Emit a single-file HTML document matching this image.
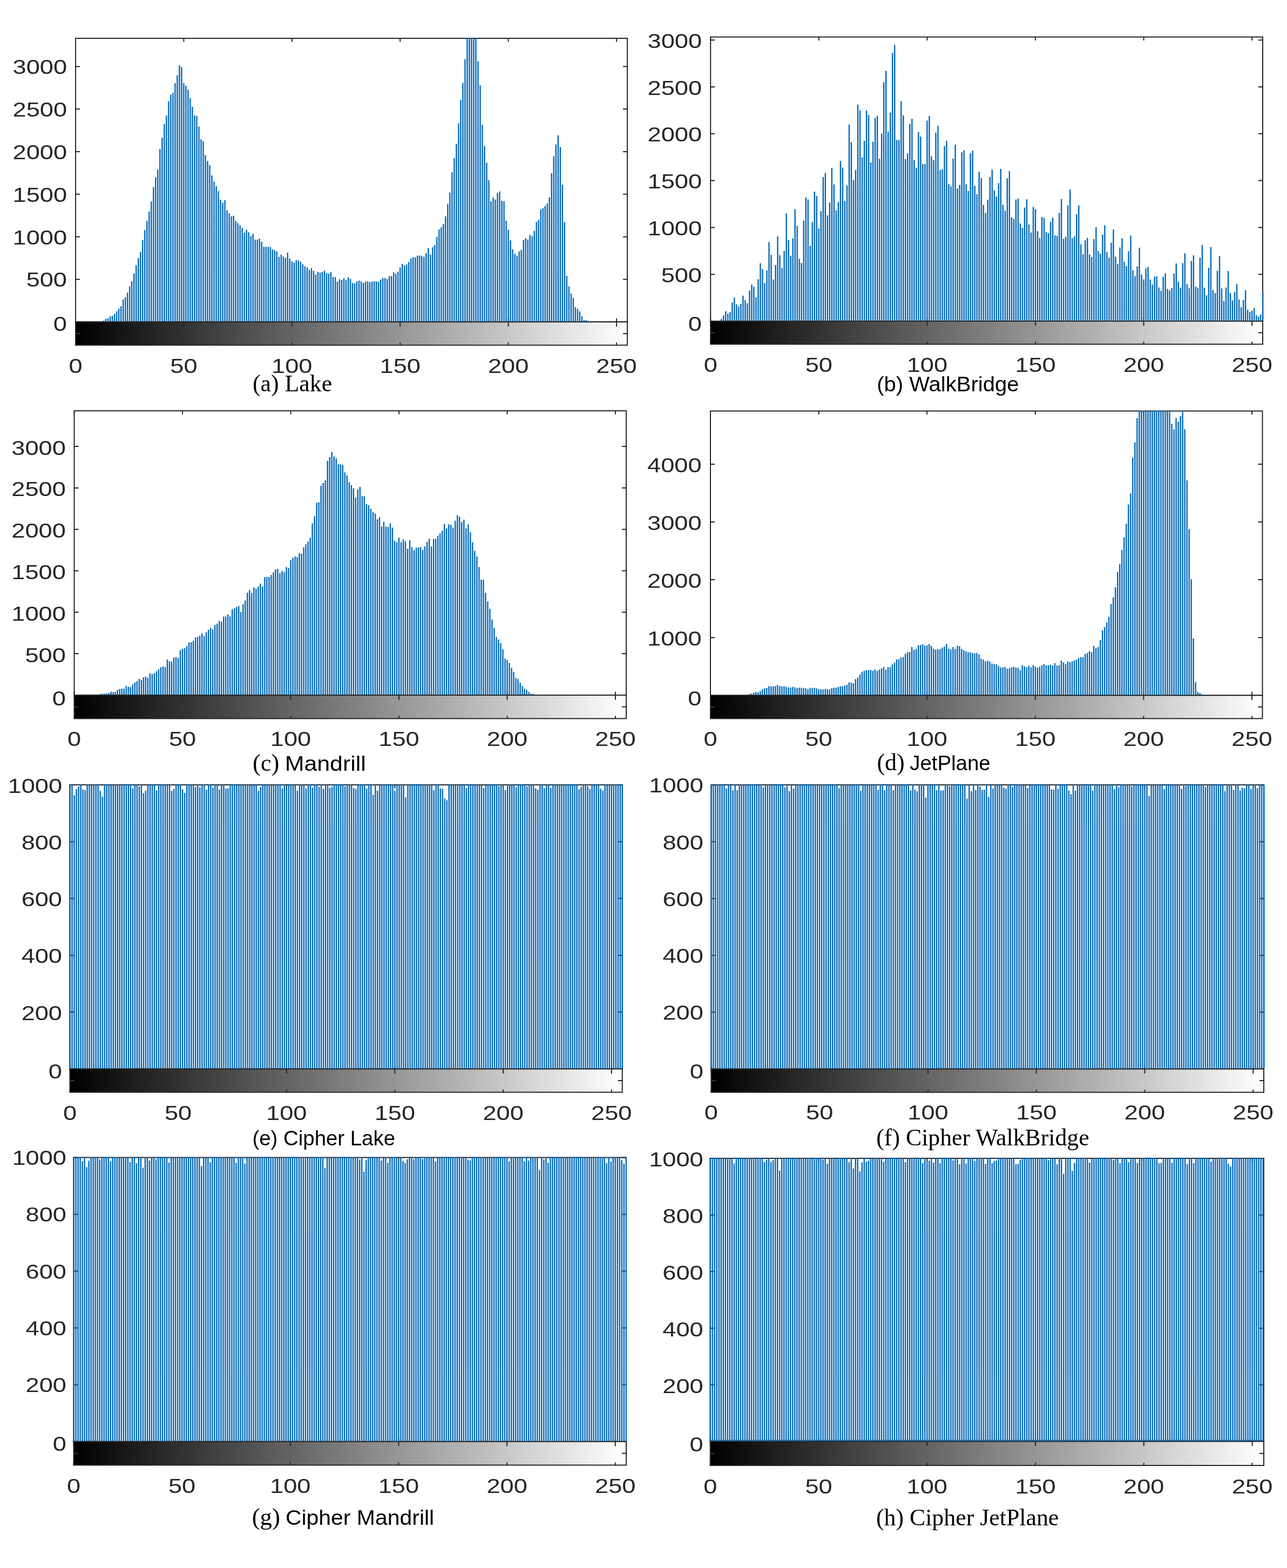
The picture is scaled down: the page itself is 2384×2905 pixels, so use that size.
<!DOCTYPE html>
<html><head><meta charset="utf-8"><title>Histograms</title>
<style>
html,body{margin:0;padding:0;background:#fff;}
svg{display:block;}
.n{font-family:"Liberation Sans",Arial,sans-serif;font-size:36.3px;fill:#262626;}
.s{font-family:"Liberation Serif","Times New Roman",serif;font-size:43.5px;fill:#000;}
.c{font-family:"Liberation Sans",Arial,sans-serif;font-size:39px;fill:#000;}
</style></head><body>
<svg width="2384" height="2905" viewBox="0 0 2384 2905">
<defs><linearGradient id="g" x1="0" x2="1" y1="0" y2="0"><stop offset="0" stop-color="#000"/><stop offset="1" stop-color="#fff"/></linearGradient></defs>
<clipPath id="ca"><rect x="137" y="70.5" width="1028" height="525.9"/></clipPath>
<rect x="140" y="71" width="1022" height="525.4" fill="none" stroke="#262626" stroke-width="2"/>
<path d="M140.0 71v6.5 M140.0 596.4v-6.5 M340.4 71v6.5 M340.4 596.4v-6.5 M540.8 71v6.5 M540.8 596.4v-6.5 M741.2 71v6.5 M741.2 596.4v-6.5 M941.6 71v6.5 M941.6 596.4v-6.5 M1142.0 71v6.5 M1142.0 596.4v-6.5 M140 596.4h8 M1162 596.4h-8 M140 517.5h8 M1162 517.5h-8 M140 438.7h8 M1162 438.7h-8 M140 359.8h8 M1162 359.8h-8 M140 281.0h8 M1162 281.0h-8 M140 202.1h8 M1162 202.1h-8 M140 123.3h8 M1162 123.3h-8" stroke="#262626" stroke-width="2" fill="none"/>
<path clip-path="url(#ca)" fill="#0067B9" d="M190.90 596.40h2.4v-2.48h-2.4zM194.91 596.40h2.4v-5.88h-2.4zM198.92 596.40h2.4v-7.23h-2.4zM202.93 596.40h2.4v-10.17h-2.4zM206.94 596.40h2.4v-11.29h-2.4zM210.94 596.40h2.4v-14.92h-2.4zM214.95 596.40h2.4v-19.59h-2.4zM218.96 596.40h2.4v-24.43h-2.4zM222.97 596.40h2.4v-29.04h-2.4zM226.98 596.40h2.4v-41.31h-2.4zM230.98 596.40h2.4v-45.87h-2.4zM234.99 596.40h2.4v-54.48h-2.4zM239.00 596.40h2.4v-65.99h-2.4zM243.01 596.40h2.4v-75.40h-2.4zM247.02 596.40h2.4v-89.89h-2.4zM251.02 596.40h2.4v-105.19h-2.4zM255.03 596.40h2.4v-118.12h-2.4zM259.04 596.40h2.4v-129.44h-2.4zM263.05 596.40h2.4v-151.70h-2.4zM267.06 596.40h2.4v-170.06h-2.4zM271.06 596.40h2.4v-187.12h-2.4zM275.07 596.40h2.4v-204.36h-2.4zM279.08 596.40h2.4v-223.05h-2.4zM283.09 596.40h2.4v-249.36h-2.4zM287.10 596.40h2.4v-267.75h-2.4zM291.10 596.40h2.4v-282.18h-2.4zM295.11 596.40h2.4v-320.43h-2.4zM299.12 596.40h2.4v-341.25h-2.4zM303.13 596.40h2.4v-366.30h-2.4zM307.14 596.40h2.4v-382.33h-2.4zM311.14 596.40h2.4v-408.96h-2.4zM315.15 596.40h2.4v-420.89h-2.4zM319.16 596.40h2.4v-424.40h-2.4zM323.17 596.40h2.4v-442.43h-2.4zM327.18 596.40h2.4v-456.96h-2.4zM331.18 596.40h2.4v-475.70h-2.4zM335.19 596.40h2.4v-472.11h-2.4zM339.20 596.40h2.4v-442.63h-2.4zM343.21 596.40h2.4v-437.42h-2.4zM347.22 596.40h2.4v-430.20h-2.4zM351.22 596.40h2.4v-414.94h-2.4zM355.23 596.40h2.4v-398.37h-2.4zM359.24 596.40h2.4v-382.58h-2.4zM363.25 596.40h2.4v-381.58h-2.4zM367.26 596.40h2.4v-361.90h-2.4zM371.26 596.40h2.4v-338.19h-2.4zM375.27 596.40h2.4v-334.85h-2.4zM379.28 596.40h2.4v-308.92h-2.4zM383.29 596.40h2.4v-298.11h-2.4zM387.30 596.40h2.4v-290.40h-2.4zM391.30 596.40h2.4v-271.47h-2.4zM395.31 596.40h2.4v-259.94h-2.4zM399.32 596.40h2.4v-251.64h-2.4zM403.33 596.40h2.4v-242.06h-2.4zM407.34 596.40h2.4v-226.38h-2.4zM411.34 596.40h2.4v-220.90h-2.4zM415.35 596.40h2.4v-225.39h-2.4zM419.36 596.40h2.4v-206.91h-2.4zM423.37 596.40h2.4v-201.27h-2.4zM427.38 596.40h2.4v-195.58h-2.4zM431.38 596.40h2.4v-196.69h-2.4zM435.39 596.40h2.4v-187.08h-2.4zM439.40 596.40h2.4v-183.14h-2.4zM443.41 596.40h2.4v-179.05h-2.4zM447.42 596.40h2.4v-174.15h-2.4zM451.42 596.40h2.4v-165.38h-2.4zM455.43 596.40h2.4v-170.74h-2.4zM459.44 596.40h2.4v-166.13h-2.4zM463.45 596.40h2.4v-159.03h-2.4zM467.46 596.40h2.4v-163.35h-2.4zM471.46 596.40h2.4v-152.47h-2.4zM475.47 596.40h2.4v-152.51h-2.4zM479.48 596.40h2.4v-154.31h-2.4zM483.49 596.40h2.4v-148.36h-2.4zM487.50 596.40h2.4v-139.08h-2.4zM491.50 596.40h2.4v-139.08h-2.4zM495.51 596.40h2.4v-139.08h-2.4zM499.52 596.40h2.4v-138.90h-2.4zM503.53 596.40h2.4v-134.29h-2.4zM507.54 596.40h2.4v-132.97h-2.4zM511.54 596.40h2.4v-130.59h-2.4zM515.55 596.40h2.4v-120.68h-2.4zM519.56 596.40h2.4v-124.61h-2.4zM523.57 596.40h2.4v-121.19h-2.4zM527.58 596.40h2.4v-118.70h-2.4zM531.58 596.40h2.4v-128.32h-2.4zM535.59 596.40h2.4v-117.09h-2.4zM539.60 596.40h2.4v-111.91h-2.4zM543.61 596.40h2.4v-110.13h-2.4zM547.62 596.40h2.4v-114.54h-2.4zM551.62 596.40h2.4v-113.81h-2.4zM555.63 596.40h2.4v-111.54h-2.4zM559.64 596.40h2.4v-106.64h-2.4zM563.65 596.40h2.4v-103.12h-2.4zM567.66 596.40h2.4v-100.95h-2.4zM571.66 596.40h2.4v-96.34h-2.4zM575.67 596.40h2.4v-99.64h-2.4zM579.68 596.40h2.4v-94.74h-2.4zM583.69 596.40h2.4v-87.90h-2.4zM587.70 596.40h2.4v-92.35h-2.4zM591.70 596.40h2.4v-91.38h-2.4zM595.71 596.40h2.4v-92.61h-2.4zM599.72 596.40h2.4v-94.84h-2.4zM603.73 596.40h2.4v-90.33h-2.4zM607.74 596.40h2.4v-89.40h-2.4zM611.74 596.40h2.4v-92.29h-2.4zM615.75 596.40h2.4v-83.33h-2.4zM619.76 596.40h2.4v-82.79h-2.4zM623.77 596.40h2.4v-74.77h-2.4zM627.78 596.40h2.4v-79.18h-2.4zM631.78 596.40h2.4v-77.58h-2.4zM635.79 596.40h2.4v-80.91h-2.4zM639.80 596.40h2.4v-77.63h-2.4zM643.81 596.40h2.4v-82.53h-2.4zM647.82 596.40h2.4v-79.66h-2.4zM651.82 596.40h2.4v-72.18h-2.4zM655.83 596.40h2.4v-71.43h-2.4zM659.84 596.40h2.4v-74.93h-2.4zM663.85 596.40h2.4v-76.69h-2.4zM667.86 596.40h2.4v-75.13h-2.4zM671.86 596.40h2.4v-72.46h-2.4zM675.87 596.40h2.4v-74.72h-2.4zM679.88 596.40h2.4v-75.13h-2.4zM683.89 596.40h2.4v-74.02h-2.4zM687.90 596.40h2.4v-74.99h-2.4zM691.90 596.40h2.4v-75.21h-2.4zM695.91 596.40h2.4v-75.21h-2.4zM699.92 596.40h2.4v-74.13h-2.4zM703.93 596.40h2.4v-78.51h-2.4zM707.94 596.40h2.4v-81.52h-2.4zM711.94 596.40h2.4v-81.28h-2.4zM715.95 596.40h2.4v-79.48h-2.4zM719.96 596.40h2.4v-84.85h-2.4zM723.97 596.40h2.4v-84.87h-2.4zM727.98 596.40h2.4v-92.23h-2.4zM731.98 596.40h2.4v-89.23h-2.4zM735.99 596.40h2.4v-93.06h-2.4zM740.00 596.40h2.4v-100.84h-2.4zM744.01 596.40h2.4v-107.58h-2.4zM748.02 596.40h2.4v-104.69h-2.4zM752.02 596.40h2.4v-106.52h-2.4zM756.03 596.40h2.4v-111.13h-2.4zM760.04 596.40h2.4v-117.44h-2.4zM764.05 596.40h2.4v-119.85h-2.4zM768.06 596.40h2.4v-119.65h-2.4zM772.06 596.40h2.4v-122.82h-2.4zM776.07 596.40h2.4v-123.18h-2.4zM780.08 596.40h2.4v-122.17h-2.4zM784.09 596.40h2.4v-120.57h-2.4zM788.10 596.40h2.4v-127.48h-2.4zM792.10 596.40h2.4v-136.83h-2.4zM796.11 596.40h2.4v-124.59h-2.4zM800.12 596.40h2.4v-138.38h-2.4zM804.13 596.40h2.4v-142.41h-2.4zM808.14 596.40h2.4v-157.71h-2.4zM812.14 596.40h2.4v-171.07h-2.4zM816.15 596.40h2.4v-175.10h-2.4zM820.16 596.40h2.4v-181.34h-2.4zM824.17 596.40h2.4v-195.69h-2.4zM828.18 596.40h2.4v-219.00h-2.4zM832.18 596.40h2.4v-239.57h-2.4zM836.19 596.40h2.4v-277.10h-2.4zM840.20 596.40h2.4v-303.15h-2.4zM844.21 596.40h2.4v-329.80h-2.4zM848.22 596.40h2.4v-367.93h-2.4zM852.22 596.40h2.4v-411.34h-2.4zM856.23 596.40h2.4v-442.87h-2.4zM860.24 596.40h2.4v-486.67h-2.4zM864.25 596.40h2.4v-580.89h-2.4zM868.26 596.40h2.4v-580.89h-2.4zM872.26 596.40h2.4v-580.89h-2.4zM876.27 596.40h2.4v-580.89h-2.4zM880.28 596.40h2.4v-570.43h-2.4zM884.29 596.40h2.4v-482.65h-2.4zM888.30 596.40h2.4v-438.11h-2.4zM892.30 596.40h2.4v-365.08h-2.4zM896.31 596.40h2.4v-326.01h-2.4zM900.32 596.40h2.4v-294.80h-2.4zM904.33 596.40h2.4v-262.48h-2.4zM908.34 596.40h2.4v-223.38h-2.4zM912.34 596.40h2.4v-230.75h-2.4zM916.35 596.40h2.4v-226.53h-2.4zM920.36 596.40h2.4v-238.94h-2.4zM924.37 596.40h2.4v-241.75h-2.4zM928.38 596.40h2.4v-224.46h-2.4zM932.38 596.40h2.4v-223.47h-2.4zM936.39 596.40h2.4v-187.66h-2.4zM940.40 596.40h2.4v-170.63h-2.4zM944.41 596.40h2.4v-151.18h-2.4zM948.42 596.40h2.4v-134.41h-2.4zM952.42 596.40h2.4v-126.39h-2.4zM956.43 596.40h2.4v-122.85h-2.4zM960.44 596.40h2.4v-130.62h-2.4zM964.45 596.40h2.4v-133.48h-2.4zM968.46 596.40h2.4v-151.54h-2.4zM972.46 596.40h2.4v-154.99h-2.4zM976.47 596.40h2.4v-152.74h-2.4zM980.48 596.40h2.4v-161.24h-2.4zM984.49 596.40h2.4v-158.54h-2.4zM988.50 596.40h2.4v-168.55h-2.4zM992.50 596.40h2.4v-185.38h-2.4zM996.51 596.40h2.4v-189.16h-2.4zM1000.52 596.40h2.4v-208.86h-2.4zM1004.53 596.40h2.4v-211.02h-2.4zM1008.54 596.40h2.4v-214.54h-2.4zM1012.54 596.40h2.4v-219.68h-2.4zM1016.55 596.40h2.4v-230.98h-2.4zM1020.56 596.40h2.4v-275.69h-2.4zM1024.57 596.40h2.4v-306.91h-2.4zM1028.58 596.40h2.4v-328.78h-2.4zM1032.58 596.40h2.4v-345.72h-2.4zM1036.59 596.40h2.4v-323.83h-2.4zM1040.60 596.40h2.4v-254.24h-2.4zM1044.61 596.40h2.4v-184.98h-2.4zM1048.62 596.40h2.4v-85.30h-2.4zM1052.62 596.40h2.4v-65.80h-2.4zM1056.63 596.40h2.4v-52.64h-2.4zM1060.64 596.40h2.4v-44.50h-2.4zM1064.65 596.40h2.4v-27.21h-2.4zM1068.66 596.40h2.4v-24.12h-2.4zM1072.66 596.40h2.4v-19.76h-2.4zM1076.67 596.40h2.4v-10.59h-2.4zM1080.68 596.40h2.4v-3.40h-2.4zM1084.69 596.40h2.4v-3.40h-2.4zM1088.70 596.40h2.4v-1.56h-2.4z"/>
<rect x="140" y="596.4" width="1022" height="43.10000000000002" fill="url(#g)" stroke="#262626" stroke-width="2"/>
<path d="M140.0 596.4v8.5 M140.0 639.5v-5 M340.4 596.4v8.5 M340.4 639.5v-5 M540.8 596.4v8.5 M540.8 639.5v-5 M741.2 596.4v8.5 M741.2 639.5v-5 M941.6 596.4v8.5 M941.6 639.5v-5 M1142.0 596.4v8.5 M1142.0 639.5v-5 M1162 618.0h-8" stroke="#262626" stroke-width="2" fill="none"/>
<path d="M140 618.0h8" stroke="#3a3a3a" stroke-width="2" fill="none"/>
<text transform="translate(124.0,613.4) scale(1.245,1)" text-anchor="end" class="n">0</text>
<text transform="translate(124.0,531.3) scale(1.245,1)" text-anchor="end" class="n">500</text>
<text transform="translate(124.0,452.5) scale(1.245,1)" text-anchor="end" class="n">1000</text>
<text transform="translate(124.0,373.6) scale(1.245,1)" text-anchor="end" class="n">1500</text>
<text transform="translate(124.0,294.8) scale(1.245,1)" text-anchor="end" class="n">2000</text>
<text transform="translate(124.0,215.9) scale(1.245,1)" text-anchor="end" class="n">2500</text>
<text transform="translate(124.0,137.1) scale(1.245,1)" text-anchor="end" class="n">3000</text>
<text transform="translate(140.0,690.5) scale(1.245,1)" text-anchor="middle" class="n">0</text>
<text transform="translate(340.4,690.5) scale(1.245,1)" text-anchor="middle" class="n">50</text>
<text transform="translate(540.8,690.5) scale(1.245,1)" text-anchor="middle" class="n">100</text>
<text transform="translate(741.2,690.5) scale(1.245,1)" text-anchor="middle" class="n">150</text>
<text transform="translate(941.6,690.5) scale(1.245,1)" text-anchor="middle" class="n">200</text>
<text transform="translate(1142.0,690.5) scale(1.245,1)" text-anchor="middle" class="n">250</text>
<text x="468.0" y="725.1" class="s" textLength="147.1" lengthAdjust="spacingAndGlyphs">(a) Lake</text>
<clipPath id="cb"><rect x="1313.2" y="68.0" width="1028.8" height="527.0"/></clipPath>
<rect x="1316.2" y="68.5" width="1022.8" height="526.5" fill="none" stroke="#262626" stroke-width="2"/>
<path d="M1316.2 68.5v6.5 M1316.2 595v-6.5 M1516.8 68.5v6.5 M1516.8 595v-6.5 M1717.4 68.5v6.5 M1717.4 595v-6.5 M1918.0 68.5v6.5 M1918.0 595v-6.5 M2118.6 68.5v6.5 M2118.6 595v-6.5 M2319.2 68.5v6.5 M2319.2 595v-6.5 M1316.2 595.0h8 M2339 595.0h-8 M1316.2 508.2h8 M2339 508.2h-8 M1316.2 421.4h8 M2339 421.4h-8 M1316.2 334.6h8 M2339 334.6h-8 M1316.2 247.8h8 M2339 247.8h-8 M1316.2 161.0h8 M2339 161.0h-8 M1316.2 74.2h8 M2339 74.2h-8" stroke="#262626" stroke-width="2" fill="none"/>
<path clip-path="url(#cb)" fill="#0067B9" d="M1335.06 595.00h2.4v-4.56h-2.4zM1339.07 595.00h2.4v-10.42h-2.4zM1343.08 595.00h2.4v-18.44h-2.4zM1347.10 595.00h2.4v-13.77h-2.4zM1351.11 595.00h2.4v-16.91h-2.4zM1355.12 595.00h2.4v-34.23h-2.4zM1359.13 595.00h2.4v-43.65h-2.4zM1363.14 595.00h2.4v-31.34h-2.4zM1367.16 595.00h2.4v-27.10h-2.4zM1371.17 595.00h2.4v-32.11h-2.4zM1375.18 595.00h2.4v-47.13h-2.4zM1379.19 595.00h2.4v-38.63h-2.4zM1383.20 595.00h2.4v-33.22h-2.4zM1387.22 595.00h2.4v-56.65h-2.4zM1391.23 595.00h2.4v-67.87h-2.4zM1395.24 595.00h2.4v-63.72h-2.4zM1399.25 595.00h2.4v-43.88h-2.4zM1403.26 595.00h2.4v-77.57h-2.4zM1407.28 595.00h2.4v-107.18h-2.4zM1411.29 595.00h2.4v-96.66h-2.4zM1415.30 595.00h2.4v-70.13h-2.4zM1419.31 595.00h2.4v-94.17h-2.4zM1423.32 595.00h2.4v-146.62h-2.4zM1427.34 595.00h2.4v-123.05h-2.4zM1431.35 595.00h2.4v-77.30h-2.4zM1435.36 595.00h2.4v-104.02h-2.4zM1439.37 595.00h2.4v-156.88h-2.4zM1443.38 595.00h2.4v-122.33h-2.4zM1447.40 595.00h2.4v-98.53h-2.4zM1451.41 595.00h2.4v-130.10h-2.4zM1455.42 595.00h2.4v-199.57h-2.4zM1459.43 595.00h2.4v-150.39h-2.4zM1463.44 595.00h2.4v-120.98h-2.4zM1467.46 595.00h2.4v-153.44h-2.4zM1471.47 595.00h2.4v-207.46h-2.4zM1475.48 595.00h2.4v-176.39h-2.4zM1479.49 595.00h2.4v-115.43h-2.4zM1483.50 595.00h2.4v-107.81h-2.4zM1487.52 595.00h2.4v-186.28h-2.4zM1491.53 595.00h2.4v-229.15h-2.4zM1495.54 595.00h2.4v-225.41h-2.4zM1499.55 595.00h2.4v-139.82h-2.4zM1503.56 595.00h2.4v-183.40h-2.4zM1507.58 595.00h2.4v-239.89h-2.4zM1511.59 595.00h2.4v-231.98h-2.4zM1515.60 595.00h2.4v-171.87h-2.4zM1519.61 595.00h2.4v-203.94h-2.4zM1523.62 595.00h2.4v-266.89h-2.4zM1527.64 595.00h2.4v-274.71h-2.4zM1531.65 595.00h2.4v-196.09h-2.4zM1535.66 595.00h2.4v-219.72h-2.4zM1539.67 595.00h2.4v-283.74h-2.4zM1543.68 595.00h2.4v-253.41h-2.4zM1547.70 595.00h2.4v-205.33h-2.4zM1551.71 595.00h2.4v-220.66h-2.4zM1555.72 595.00h2.4v-296.74h-2.4zM1559.73 595.00h2.4v-284.61h-2.4zM1563.74 595.00h2.4v-222.69h-2.4zM1567.76 595.00h2.4v-251.67h-2.4zM1571.77 595.00h2.4v-364.38h-2.4zM1575.78 595.00h2.4v-331.54h-2.4zM1579.79 595.00h2.4v-261.35h-2.4zM1583.80 595.00h2.4v-280.29h-2.4zM1587.82 595.00h2.4v-401.33h-2.4zM1591.83 595.00h2.4v-390.52h-2.4zM1595.84 595.00h2.4v-303.26h-2.4zM1599.85 595.00h2.4v-333.90h-2.4zM1603.86 595.00h2.4v-390.27h-2.4zM1607.88 595.00h2.4v-381.96h-2.4zM1611.89 595.00h2.4v-294.37h-2.4zM1615.90 595.00h2.4v-332.50h-2.4zM1619.91 595.00h2.4v-376.59h-2.4zM1623.92 595.00h2.4v-380.60h-2.4zM1627.94 595.00h2.4v-300.96h-2.4zM1631.95 595.00h2.4v-347.44h-2.4zM1635.96 595.00h2.4v-442.69h-2.4zM1639.97 595.00h2.4v-463.75h-2.4zM1643.98 595.00h2.4v-351.12h-2.4zM1648.00 595.00h2.4v-386.40h-2.4zM1652.01 595.00h2.4v-496.65h-2.4zM1656.02 595.00h2.4v-511.80h-2.4zM1660.03 595.00h2.4v-335.63h-2.4zM1664.04 595.00h2.4v-335.78h-2.4zM1668.06 595.00h2.4v-407.79h-2.4zM1672.07 595.00h2.4v-381.36h-2.4zM1676.08 595.00h2.4v-300.22h-2.4zM1680.09 595.00h2.4v-310.67h-2.4zM1684.10 595.00h2.4v-365.57h-2.4zM1688.12 595.00h2.4v-375.08h-2.4zM1692.13 595.00h2.4v-298.70h-2.4zM1696.14 595.00h2.4v-284.21h-2.4zM1700.15 595.00h2.4v-350.29h-2.4zM1704.16 595.00h2.4v-342.01h-2.4zM1708.18 595.00h2.4v-291.19h-2.4zM1712.19 595.00h2.4v-291.16h-2.4zM1716.20 595.00h2.4v-371.39h-2.4zM1720.21 595.00h2.4v-380.19h-2.4zM1724.22 595.00h2.4v-305.52h-2.4zM1728.24 595.00h2.4v-298.34h-2.4zM1732.25 595.00h2.4v-349.32h-2.4zM1736.26 595.00h2.4v-361.75h-2.4zM1740.27 595.00h2.4v-280.03h-2.4zM1744.28 595.00h2.4v-281.02h-2.4zM1748.30 595.00h2.4v-324.34h-2.4zM1752.31 595.00h2.4v-334.00h-2.4zM1756.32 595.00h2.4v-254.31h-2.4zM1760.33 595.00h2.4v-249.67h-2.4zM1764.34 595.00h2.4v-301.26h-2.4zM1768.36 595.00h2.4v-326.90h-2.4zM1772.37 595.00h2.4v-245.67h-2.4zM1776.38 595.00h2.4v-252.58h-2.4zM1780.39 595.00h2.4v-312.76h-2.4zM1784.40 595.00h2.4v-316.45h-2.4zM1788.42 595.00h2.4v-253.47h-2.4zM1792.43 595.00h2.4v-241.27h-2.4zM1796.44 595.00h2.4v-310.89h-2.4zM1800.45 595.00h2.4v-316.11h-2.4zM1804.46 595.00h2.4v-250.67h-2.4zM1808.48 595.00h2.4v-235.07h-2.4zM1812.49 595.00h2.4v-276.71h-2.4zM1816.50 595.00h2.4v-265.05h-2.4zM1820.51 595.00h2.4v-215.57h-2.4zM1824.52 595.00h2.4v-200.60h-2.4zM1828.54 595.00h2.4v-224.98h-2.4zM1832.55 595.00h2.4v-267.20h-2.4zM1836.56 595.00h2.4v-280.64h-2.4zM1840.57 595.00h2.4v-242.20h-2.4zM1844.58 595.00h2.4v-230.87h-2.4zM1848.60 595.00h2.4v-255.69h-2.4zM1852.61 595.00h2.4v-282.37h-2.4zM1856.62 595.00h2.4v-215.68h-2.4zM1860.63 595.00h2.4v-204.54h-2.4zM1864.64 595.00h2.4v-264.76h-2.4zM1868.66 595.00h2.4v-277.91h-2.4zM1872.67 595.00h2.4v-192.16h-2.4zM1876.68 595.00h2.4v-189.57h-2.4zM1880.69 595.00h2.4v-225.24h-2.4zM1884.70 595.00h2.4v-227.03h-2.4zM1888.72 595.00h2.4v-181.04h-2.4zM1892.73 595.00h2.4v-173.02h-2.4zM1896.74 595.00h2.4v-210.42h-2.4zM1900.75 595.00h2.4v-226.10h-2.4zM1904.76 595.00h2.4v-179.04h-2.4zM1908.78 595.00h2.4v-164.26h-2.4zM1912.79 595.00h2.4v-211.86h-2.4zM1916.80 595.00h2.4v-207.38h-2.4zM1920.81 595.00h2.4v-166.77h-2.4zM1924.82 595.00h2.4v-154.27h-2.4zM1928.84 595.00h2.4v-193.07h-2.4zM1932.85 595.00h2.4v-191.19h-2.4zM1936.86 595.00h2.4v-164.91h-2.4zM1940.87 595.00h2.4v-163.17h-2.4zM1944.88 595.00h2.4v-184.27h-2.4zM1948.90 595.00h2.4v-191.69h-2.4zM1952.91 595.00h2.4v-159.10h-2.4zM1956.92 595.00h2.4v-158.09h-2.4zM1960.93 595.00h2.4v-200.76h-2.4zM1964.94 595.00h2.4v-226.55h-2.4zM1968.96 595.00h2.4v-152.60h-2.4zM1972.97 595.00h2.4v-156.54h-2.4zM1976.98 595.00h2.4v-214.69h-2.4zM1980.99 595.00h2.4v-243.67h-2.4zM1985.00 595.00h2.4v-153.57h-2.4zM1989.02 595.00h2.4v-157.12h-2.4zM1993.03 595.00h2.4v-197.90h-2.4zM1997.04 595.00h2.4v-214.45h-2.4zM2001.05 595.00h2.4v-142.46h-2.4zM2005.06 595.00h2.4v-124.09h-2.4zM2009.08 595.00h2.4v-150.02h-2.4zM2013.09 595.00h2.4v-154.45h-2.4zM2017.10 595.00h2.4v-123.54h-2.4zM2021.11 595.00h2.4v-118.68h-2.4zM2025.12 595.00h2.4v-151.87h-2.4zM2029.14 595.00h2.4v-174.14h-2.4zM2033.15 595.00h2.4v-130.03h-2.4zM2037.16 595.00h2.4v-124.96h-2.4zM2041.17 595.00h2.4v-160.28h-2.4zM2045.18 595.00h2.4v-177.87h-2.4zM2049.20 595.00h2.4v-127.94h-2.4zM2053.21 595.00h2.4v-117.51h-2.4zM2057.22 595.00h2.4v-145.18h-2.4zM2061.23 595.00h2.4v-169.85h-2.4zM2065.24 595.00h2.4v-119.60h-2.4zM2069.26 595.00h2.4v-105.90h-2.4zM2073.27 595.00h2.4v-136.39h-2.4zM2077.28 595.00h2.4v-153.44h-2.4zM2081.29 595.00h2.4v-110.06h-2.4zM2085.30 595.00h2.4v-101.99h-2.4zM2089.32 595.00h2.4v-129.56h-2.4zM2093.33 595.00h2.4v-158.45h-2.4zM2097.34 595.00h2.4v-94.49h-2.4zM2101.35 595.00h2.4v-83.14h-2.4zM2105.36 595.00h2.4v-101.54h-2.4zM2109.38 595.00h2.4v-136.08h-2.4zM2113.39 595.00h2.4v-86.43h-2.4zM2117.40 595.00h2.4v-77.22h-2.4zM2121.41 595.00h2.4v-97.72h-2.4zM2125.42 595.00h2.4v-100.76h-2.4zM2129.44 595.00h2.4v-76.88h-2.4zM2133.45 595.00h2.4v-67.85h-2.4zM2137.46 595.00h2.4v-82.54h-2.4zM2141.47 595.00h2.4v-82.97h-2.4zM2145.48 595.00h2.4v-62.25h-2.4zM2149.50 595.00h2.4v-56.24h-2.4zM2153.51 595.00h2.4v-82.30h-2.4zM2157.52 595.00h2.4v-88.42h-2.4zM2161.53 595.00h2.4v-59.44h-2.4zM2165.54 595.00h2.4v-57.32h-2.4zM2169.56 595.00h2.4v-61.49h-2.4zM2173.57 595.00h2.4v-88.36h-2.4zM2177.58 595.00h2.4v-106.64h-2.4zM2181.59 595.00h2.4v-73.07h-2.4zM2185.60 595.00h2.4v-61.92h-2.4zM2189.62 595.00h2.4v-107.61h-2.4zM2193.63 595.00h2.4v-125.63h-2.4zM2197.64 595.00h2.4v-68.52h-2.4zM2201.65 595.00h2.4v-61.10h-2.4zM2205.66 595.00h2.4v-111.57h-2.4zM2209.68 595.00h2.4v-121.92h-2.4zM2213.69 595.00h2.4v-64.00h-2.4zM2217.70 595.00h2.4v-61.56h-2.4zM2221.71 595.00h2.4v-117.73h-2.4zM2225.72 595.00h2.4v-140.99h-2.4zM2229.74 595.00h2.4v-61.94h-2.4zM2233.75 595.00h2.4v-48.12h-2.4zM2237.76 595.00h2.4v-99.00h-2.4zM2241.77 595.00h2.4v-137.53h-2.4zM2245.78 595.00h2.4v-57.99h-2.4zM2249.80 595.00h2.4v-51.89h-2.4zM2253.81 595.00h2.4v-93.17h-2.4zM2257.82 595.00h2.4v-120.41h-2.4zM2261.83 595.00h2.4v-60.63h-2.4zM2265.84 595.00h2.4v-37.44h-2.4zM2269.86 595.00h2.4v-62.33h-2.4zM2273.87 595.00h2.4v-93.09h-2.4zM2277.88 595.00h2.4v-51.91h-2.4zM2281.89 595.00h2.4v-38.58h-2.4zM2285.90 595.00h2.4v-54.16h-2.4zM2289.92 595.00h2.4v-68.64h-2.4zM2293.93 595.00h2.4v-40.23h-2.4zM2297.94 595.00h2.4v-25.67h-2.4zM2301.95 595.00h2.4v-39.04h-2.4zM2305.96 595.00h2.4v-57.19h-2.4zM2309.98 595.00h2.4v-21.15h-2.4zM2313.99 595.00h2.4v-16.98h-2.4zM2318.00 595.00h2.4v-19.38h-2.4zM2322.01 595.00h2.4v-24.45h-2.4zM2326.02 595.00h2.4v-10.74h-2.4zM2330.04 595.00h2.4v-8.44h-2.4zM2334.05 595.00h2.4v-12.45h-2.4zM2338.06 595.00h2.4v-53.61h-2.4z"/>
<rect x="1316.2" y="595" width="1022.8" height="42.700000000000045" fill="url(#g)" stroke="#262626" stroke-width="2"/>
<path d="M1316.2 595v8.5 M1316.2 637.7v-5 M1516.8 595v8.5 M1516.8 637.7v-5 M1717.4 595v8.5 M1717.4 637.7v-5 M1918.0 595v8.5 M1918.0 637.7v-5 M2118.6 595v8.5 M2118.6 637.7v-5 M2319.2 595v8.5 M2319.2 637.7v-5 M2339 616.4h-8" stroke="#262626" stroke-width="2" fill="none"/>
<path d="M1316.2 616.4h8" stroke="#3a3a3a" stroke-width="2" fill="none"/>
<text transform="translate(1300.0,612.7) scale(1.245,1)" text-anchor="end" class="n">0</text>
<text transform="translate(1300.0,522.7) scale(1.245,1)" text-anchor="end" class="n">500</text>
<text transform="translate(1300.0,435.9) scale(1.245,1)" text-anchor="end" class="n">1000</text>
<text transform="translate(1300.0,349.1) scale(1.245,1)" text-anchor="end" class="n">1500</text>
<text transform="translate(1300.0,262.3) scale(1.245,1)" text-anchor="end" class="n">2000</text>
<text transform="translate(1300.0,175.5) scale(1.245,1)" text-anchor="end" class="n">2500</text>
<text transform="translate(1300.0,88.7) scale(1.245,1)" text-anchor="end" class="n">3000</text>
<text transform="translate(1316.2,689.0) scale(1.245,1)" text-anchor="middle" class="n">0</text>
<text transform="translate(1516.8,689.0) scale(1.245,1)" text-anchor="middle" class="n">50</text>
<text transform="translate(1717.4,689.0) scale(1.245,1)" text-anchor="middle" class="n">100</text>
<text transform="translate(1918.0,689.0) scale(1.245,1)" text-anchor="middle" class="n">150</text>
<text transform="translate(2118.6,689.0) scale(1.245,1)" text-anchor="middle" class="n">200</text>
<text transform="translate(2319.2,689.0) scale(1.245,1)" text-anchor="middle" class="n">250</text>
<text x="1624.3" y="725.4" class="c" textLength="263.1" lengthAdjust="spacingAndGlyphs">(b) WalkBridge</text>
<clipPath id="cc"><rect x="134.5" y="760.6" width="1028.5" height="527.3000000000001"/></clipPath>
<rect x="137.5" y="761.1" width="1022.5" height="526.8000000000001" fill="none" stroke="#262626" stroke-width="2"/>
<path d="M137.5 761.1v6.5 M137.5 1287.9v-6.5 M338.0 761.1v6.5 M338.0 1287.9v-6.5 M538.5 761.1v6.5 M538.5 1287.9v-6.5 M739.0 761.1v6.5 M739.0 1287.9v-6.5 M939.5 761.1v6.5 M939.5 1287.9v-6.5 M1140.0 761.1v6.5 M1140.0 1287.9v-6.5 M137.5 1287.9h8 M1160 1287.9h-8 M137.5 1211.1h8 M1160 1211.1h-8 M137.5 1134.3h8 M1160 1134.3h-8 M137.5 1057.5h8 M1160 1057.5h-8 M137.5 980.7h8 M1160 980.7h-8 M137.5 903.9h8 M1160 903.9h-8 M137.5 827.1h8 M1160 827.1h-8" stroke="#262626" stroke-width="2" fill="none"/>
<path clip-path="url(#cc)" fill="#0067B9" d="M184.42 1287.90h2.4v-2.54h-2.4zM188.43 1287.90h2.4v-2.77h-2.4zM192.44 1287.90h2.4v-2.99h-2.4zM196.45 1287.90h2.4v-3.16h-2.4zM200.46 1287.90h2.4v-4.09h-2.4zM204.47 1287.90h2.4v-6.46h-2.4zM208.48 1287.90h2.4v-5.56h-2.4zM212.49 1287.90h2.4v-5.93h-2.4zM216.50 1287.90h2.4v-9.56h-2.4zM220.51 1287.90h2.4v-11.35h-2.4zM224.52 1287.90h2.4v-12.07h-2.4zM228.53 1287.90h2.4v-12.19h-2.4zM232.54 1287.90h2.4v-16.88h-2.4zM236.55 1287.90h2.4v-15.34h-2.4zM240.56 1287.90h2.4v-14.88h-2.4zM244.57 1287.90h2.4v-19.53h-2.4zM248.58 1287.90h2.4v-23.19h-2.4zM252.59 1287.90h2.4v-25.90h-2.4zM256.60 1287.90h2.4v-29.85h-2.4zM260.61 1287.90h2.4v-27.82h-2.4zM264.62 1287.90h2.4v-32.92h-2.4zM268.63 1287.90h2.4v-34.42h-2.4zM272.64 1287.90h2.4v-32.29h-2.4zM276.65 1287.90h2.4v-40.21h-2.4zM280.66 1287.90h2.4v-38.83h-2.4zM284.67 1287.90h2.4v-40.85h-2.4zM288.68 1287.90h2.4v-44.39h-2.4zM292.69 1287.90h2.4v-47.96h-2.4zM296.70 1287.90h2.4v-51.73h-2.4zM300.71 1287.90h2.4v-53.23h-2.4zM304.72 1287.90h2.4v-52.23h-2.4zM308.73 1287.90h2.4v-65.89h-2.4zM312.74 1287.90h2.4v-63.19h-2.4zM316.75 1287.90h2.4v-61.86h-2.4zM320.76 1287.90h2.4v-69.34h-2.4zM324.77 1287.90h2.4v-70.53h-2.4zM328.78 1287.90h2.4v-68.90h-2.4zM332.79 1287.90h2.4v-83.34h-2.4zM336.80 1287.90h2.4v-86.01h-2.4zM340.81 1287.90h2.4v-86.78h-2.4zM344.82 1287.90h2.4v-90.92h-2.4zM348.83 1287.90h2.4v-97.52h-2.4zM352.84 1287.90h2.4v-98.05h-2.4zM356.85 1287.90h2.4v-100.38h-2.4zM360.86 1287.90h2.4v-107.01h-2.4zM364.87 1287.90h2.4v-107.70h-2.4zM368.88 1287.90h2.4v-110.46h-2.4zM372.89 1287.90h2.4v-114.72h-2.4zM376.90 1287.90h2.4v-109.71h-2.4zM380.91 1287.90h2.4v-116.66h-2.4zM384.92 1287.90h2.4v-121.12h-2.4zM388.93 1287.90h2.4v-125.23h-2.4zM392.94 1287.90h2.4v-121.67h-2.4zM396.95 1287.90h2.4v-130.27h-2.4zM400.96 1287.90h2.4v-132.31h-2.4zM404.97 1287.90h2.4v-137.74h-2.4zM408.98 1287.90h2.4v-135.92h-2.4zM412.99 1287.90h2.4v-145.63h-2.4zM417.00 1287.90h2.4v-145.63h-2.4zM421.01 1287.90h2.4v-149.73h-2.4zM425.02 1287.90h2.4v-146.17h-2.4zM429.03 1287.90h2.4v-159.13h-2.4zM433.04 1287.90h2.4v-160.54h-2.4zM437.05 1287.90h2.4v-163.47h-2.4zM441.06 1287.90h2.4v-165.20h-2.4zM445.07 1287.90h2.4v-154.17h-2.4zM449.08 1287.90h2.4v-168.50h-2.4zM453.09 1287.90h2.4v-175.39h-2.4zM457.10 1287.90h2.4v-189.98h-2.4zM461.11 1287.90h2.4v-194.88h-2.4zM465.12 1287.90h2.4v-189.17h-2.4zM469.13 1287.90h2.4v-199.75h-2.4zM473.14 1287.90h2.4v-197.52h-2.4zM477.15 1287.90h2.4v-201.16h-2.4zM481.16 1287.90h2.4v-206.54h-2.4zM485.17 1287.90h2.4v-201.27h-2.4zM489.18 1287.90h2.4v-218.69h-2.4zM493.19 1287.90h2.4v-218.85h-2.4zM497.20 1287.90h2.4v-219.15h-2.4zM501.21 1287.90h2.4v-222.71h-2.4zM505.22 1287.90h2.4v-227.61h-2.4zM509.23 1287.90h2.4v-232.88h-2.4zM513.24 1287.90h2.4v-233.99h-2.4zM517.25 1287.90h2.4v-225.79h-2.4zM521.26 1287.90h2.4v-230.12h-2.4zM525.27 1287.90h2.4v-228.50h-2.4zM529.28 1287.90h2.4v-237.41h-2.4zM533.29 1287.90h2.4v-235.43h-2.4zM537.30 1287.90h2.4v-250.04h-2.4zM541.31 1287.90h2.4v-254.37h-2.4zM545.32 1287.90h2.4v-256.90h-2.4zM549.33 1287.90h2.4v-255.75h-2.4zM553.34 1287.90h2.4v-262.79h-2.4zM557.35 1287.90h2.4v-261.79h-2.4zM561.36 1287.90h2.4v-273.72h-2.4zM565.37 1287.90h2.4v-279.45h-2.4zM569.38 1287.90h2.4v-284.61h-2.4zM573.39 1287.90h2.4v-291.74h-2.4zM577.40 1287.90h2.4v-318.23h-2.4zM581.41 1287.90h2.4v-331.39h-2.4zM585.42 1287.90h2.4v-356.34h-2.4zM589.43 1287.90h2.4v-357.18h-2.4zM593.44 1287.90h2.4v-388.03h-2.4zM597.45 1287.90h2.4v-392.88h-2.4zM601.46 1287.90h2.4v-398.00h-2.4zM605.47 1287.90h2.4v-434.26h-2.4zM609.48 1287.90h2.4v-441.01h-2.4zM613.49 1287.90h2.4v-450.43h-2.4zM617.50 1287.90h2.4v-442.47h-2.4zM621.51 1287.90h2.4v-438.59h-2.4zM625.52 1287.90h2.4v-428.12h-2.4zM629.53 1287.90h2.4v-427.89h-2.4zM633.54 1287.90h2.4v-426.31h-2.4zM637.55 1287.90h2.4v-412.63h-2.4zM641.56 1287.90h2.4v-407.06h-2.4zM645.57 1287.90h2.4v-394.57h-2.4zM649.58 1287.90h2.4v-389.26h-2.4zM653.59 1287.90h2.4v-383.29h-2.4zM657.60 1287.90h2.4v-366.13h-2.4zM661.61 1287.90h2.4v-381.06h-2.4zM665.62 1287.90h2.4v-385.89h-2.4zM669.63 1287.90h2.4v-368.95h-2.4zM673.64 1287.90h2.4v-368.30h-2.4zM677.65 1287.90h2.4v-353.95h-2.4zM681.66 1287.90h2.4v-352.13h-2.4zM685.67 1287.90h2.4v-345.45h-2.4zM689.68 1287.90h2.4v-339.15h-2.4zM693.69 1287.90h2.4v-336.30h-2.4zM697.70 1287.90h2.4v-325.54h-2.4zM701.71 1287.90h2.4v-329.75h-2.4zM705.72 1287.90h2.4v-312.50h-2.4zM709.73 1287.90h2.4v-321.16h-2.4zM713.74 1287.90h2.4v-312.25h-2.4zM717.75 1287.90h2.4v-311.75h-2.4zM721.76 1287.90h2.4v-318.38h-2.4zM725.77 1287.90h2.4v-310.36h-2.4zM729.78 1287.90h2.4v-286.25h-2.4zM733.79 1287.90h2.4v-283.43h-2.4zM737.80 1287.90h2.4v-291.82h-2.4zM741.81 1287.90h2.4v-283.37h-2.4zM745.82 1287.90h2.4v-288.43h-2.4zM749.83 1287.90h2.4v-285.19h-2.4zM753.84 1287.90h2.4v-271.15h-2.4zM757.85 1287.90h2.4v-286.88h-2.4zM761.86 1287.90h2.4v-274.16h-2.4zM765.87 1287.90h2.4v-268.75h-2.4zM769.88 1287.90h2.4v-273.21h-2.4zM773.89 1287.90h2.4v-273.63h-2.4zM777.90 1287.90h2.4v-274.08h-2.4zM781.91 1287.90h2.4v-268.87h-2.4zM785.92 1287.90h2.4v-275.53h-2.4zM789.93 1287.90h2.4v-283.94h-2.4zM793.94 1287.90h2.4v-289.96h-2.4zM797.95 1287.90h2.4v-275.46h-2.4zM801.96 1287.90h2.4v-289.40h-2.4zM805.97 1287.90h2.4v-289.85h-2.4zM809.98 1287.90h2.4v-295.18h-2.4zM813.99 1287.90h2.4v-299.64h-2.4zM818.00 1287.90h2.4v-304.44h-2.4zM822.01 1287.90h2.4v-316.83h-2.4zM826.02 1287.90h2.4v-309.04h-2.4zM830.03 1287.90h2.4v-316.47h-2.4zM834.04 1287.90h2.4v-315.83h-2.4zM838.05 1287.90h2.4v-310.26h-2.4zM842.06 1287.90h2.4v-323.11h-2.4zM846.07 1287.90h2.4v-333.73h-2.4zM850.08 1287.90h2.4v-330.50h-2.4zM854.09 1287.90h2.4v-321.01h-2.4zM858.10 1287.90h2.4v-325.10h-2.4zM862.11 1287.90h2.4v-309.27h-2.4zM866.12 1287.90h2.4v-316.29h-2.4zM870.13 1287.90h2.4v-301.79h-2.4zM874.14 1287.90h2.4v-283.37h-2.4zM878.15 1287.90h2.4v-267.35h-2.4zM882.16 1287.90h2.4v-256.65h-2.4zM886.17 1287.90h2.4v-237.09h-2.4zM890.18 1287.90h2.4v-213.80h-2.4zM894.19 1287.90h2.4v-213.80h-2.4zM898.20 1287.90h2.4v-189.58h-2.4zM902.21 1287.90h2.4v-173.68h-2.4zM906.22 1287.90h2.4v-160.14h-2.4zM910.23 1287.90h2.4v-140.09h-2.4zM914.24 1287.90h2.4v-124.69h-2.4zM918.25 1287.90h2.4v-107.64h-2.4zM922.26 1287.90h2.4v-103.00h-2.4zM926.27 1287.90h2.4v-96.44h-2.4zM930.28 1287.90h2.4v-84.95h-2.4zM934.29 1287.90h2.4v-67.75h-2.4zM938.30 1287.90h2.4v-64.79h-2.4zM942.31 1287.90h2.4v-59.43h-2.4zM946.32 1287.90h2.4v-50.66h-2.4zM950.33 1287.90h2.4v-43.24h-2.4zM954.34 1287.90h2.4v-32.11h-2.4zM958.35 1287.90h2.4v-29.88h-2.4zM962.36 1287.90h2.4v-22.98h-2.4zM966.37 1287.90h2.4v-16.97h-2.4zM970.38 1287.90h2.4v-11.81h-2.4zM974.39 1287.90h2.4v-9.68h-2.4zM978.40 1287.90h2.4v-5.90h-2.4zM982.41 1287.90h2.4v-2.91h-2.4zM986.42 1287.90h2.4v-2.24h-2.4zM990.43 1287.90h2.4v-0.59h-2.4z"/>
<rect x="137.5" y="1287.9" width="1022.5" height="43.399999999999864" fill="url(#g)" stroke="#262626" stroke-width="2"/>
<path d="M137.5 1287.9v8.5 M137.5 1331.3v-5 M338.0 1287.9v8.5 M338.0 1331.3v-5 M538.5 1287.9v8.5 M538.5 1331.3v-5 M739.0 1287.9v8.5 M739.0 1331.3v-5 M939.5 1287.9v8.5 M939.5 1331.3v-5 M1140.0 1287.9v8.5 M1140.0 1331.3v-5 M1160 1309.6h-8" stroke="#262626" stroke-width="2" fill="none"/>
<path d="M137.5 1309.6h8" stroke="#3a3a3a" stroke-width="2" fill="none"/>
<text transform="translate(121.8,1306.6) scale(1.245,1)" text-anchor="end" class="n">0</text>
<text transform="translate(121.8,1226.6) scale(1.245,1)" text-anchor="end" class="n">500</text>
<text transform="translate(121.8,1149.8) scale(1.245,1)" text-anchor="end" class="n">1000</text>
<text transform="translate(121.8,1073.0) scale(1.245,1)" text-anchor="end" class="n">1500</text>
<text transform="translate(121.8,996.2) scale(1.245,1)" text-anchor="end" class="n">2000</text>
<text transform="translate(121.8,919.4) scale(1.245,1)" text-anchor="end" class="n">2500</text>
<text transform="translate(121.8,842.6) scale(1.245,1)" text-anchor="end" class="n">3000</text>
<text transform="translate(137.5,1382.0) scale(1.245,1)" text-anchor="middle" class="n">0</text>
<text transform="translate(338.0,1382.0) scale(1.245,1)" text-anchor="middle" class="n">50</text>
<text transform="translate(538.5,1382.0) scale(1.245,1)" text-anchor="middle" class="n">100</text>
<text transform="translate(739.0,1382.0) scale(1.245,1)" text-anchor="middle" class="n">150</text>
<text transform="translate(939.5,1382.0) scale(1.245,1)" text-anchor="middle" class="n">200</text>
<text transform="translate(1140.0,1382.0) scale(1.245,1)" text-anchor="middle" class="n">250</text>
<text x="468.0" y="1427.9" class="s" textLength="49.3" lengthAdjust="spacingAndGlyphs">(c)</text>
<text x="527.7" y="1427.9" class="c" textLength="150.1" lengthAdjust="spacingAndGlyphs">Mandrill</text>
<clipPath id="cd"><rect x="1313" y="761.0" width="1028.5" height="527.3"/></clipPath>
<rect x="1316" y="761.5" width="1022.5" height="526.8" fill="none" stroke="#262626" stroke-width="2"/>
<path d="M1316.0 761.5v6.5 M1316.0 1288.3v-6.5 M1516.6 761.5v6.5 M1516.6 1288.3v-6.5 M1717.2 761.5v6.5 M1717.2 1288.3v-6.5 M1917.8 761.5v6.5 M1917.8 1288.3v-6.5 M2118.4 761.5v6.5 M2118.4 1288.3v-6.5 M2319.0 761.5v6.5 M2319.0 1288.3v-6.5 M1316 1288.3h8 M2338.5 1288.3h-8 M1316 1181.2h8 M2338.5 1181.2h-8 M1316 1074.1h8 M2338.5 1074.1h-8 M1316 967.0h8 M2338.5 967.0h-8 M1316 859.9h8 M2338.5 859.9h-8" stroke="#262626" stroke-width="2" fill="none"/>
<path clip-path="url(#cd)" fill="#0067B9" d="M1387.02 1288.30h2.4v-2.64h-2.4zM1391.03 1288.30h2.4v-3.42h-2.4zM1395.04 1288.30h2.4v-5.07h-2.4zM1399.05 1288.30h2.4v-6.36h-2.4zM1403.06 1288.30h2.4v-5.65h-2.4zM1407.08 1288.30h2.4v-8.04h-2.4zM1411.09 1288.30h2.4v-11.18h-2.4zM1415.10 1288.30h2.4v-12.99h-2.4zM1419.11 1288.30h2.4v-13.83h-2.4zM1423.12 1288.30h2.4v-16.77h-2.4zM1427.14 1288.30h2.4v-16.77h-2.4zM1431.15 1288.30h2.4v-16.77h-2.4zM1435.16 1288.30h2.4v-17.11h-2.4zM1439.17 1288.30h2.4v-19.21h-2.4zM1443.18 1288.30h2.4v-17.17h-2.4zM1447.20 1288.30h2.4v-16.78h-2.4zM1451.21 1288.30h2.4v-17.18h-2.4zM1455.22 1288.30h2.4v-15.76h-2.4zM1459.23 1288.30h2.4v-14.53h-2.4zM1463.24 1288.30h2.4v-14.45h-2.4zM1467.26 1288.30h2.4v-15.66h-2.4zM1471.27 1288.30h2.4v-15.08h-2.4zM1475.28 1288.30h2.4v-13.44h-2.4zM1479.29 1288.30h2.4v-14.25h-2.4zM1483.30 1288.30h2.4v-13.93h-2.4zM1487.32 1288.30h2.4v-13.45h-2.4zM1491.33 1288.30h2.4v-13.32h-2.4zM1495.34 1288.30h2.4v-11.54h-2.4zM1499.35 1288.30h2.4v-14.13h-2.4zM1503.36 1288.30h2.4v-13.73h-2.4zM1507.38 1288.30h2.4v-14.02h-2.4zM1511.39 1288.30h2.4v-13.02h-2.4zM1515.40 1288.30h2.4v-11.83h-2.4zM1519.41 1288.30h2.4v-10.97h-2.4zM1523.42 1288.30h2.4v-11.09h-2.4zM1527.44 1288.30h2.4v-12.01h-2.4zM1531.45 1288.30h2.4v-11.76h-2.4zM1535.46 1288.30h2.4v-11.10h-2.4zM1539.47 1288.30h2.4v-13.38h-2.4zM1543.48 1288.30h2.4v-14.03h-2.4zM1547.50 1288.30h2.4v-14.37h-2.4zM1551.51 1288.30h2.4v-15.73h-2.4zM1555.52 1288.30h2.4v-16.73h-2.4zM1559.53 1288.30h2.4v-16.79h-2.4zM1563.54 1288.30h2.4v-18.15h-2.4zM1567.56 1288.30h2.4v-19.71h-2.4zM1571.57 1288.30h2.4v-24.10h-2.4zM1575.58 1288.30h2.4v-23.55h-2.4zM1579.59 1288.30h2.4v-22.18h-2.4zM1583.60 1288.30h2.4v-30.05h-2.4zM1587.62 1288.30h2.4v-32.82h-2.4zM1591.63 1288.30h2.4v-38.53h-2.4zM1595.64 1288.30h2.4v-43.55h-2.4zM1599.65 1288.30h2.4v-45.66h-2.4zM1603.66 1288.30h2.4v-47.07h-2.4zM1607.68 1288.30h2.4v-47.07h-2.4zM1611.69 1288.30h2.4v-47.07h-2.4zM1615.70 1288.30h2.4v-45.66h-2.4zM1619.71 1288.30h2.4v-48.08h-2.4zM1623.72 1288.30h2.4v-45.46h-2.4zM1627.74 1288.30h2.4v-47.73h-2.4zM1631.75 1288.30h2.4v-49.96h-2.4zM1635.76 1288.30h2.4v-52.74h-2.4zM1639.77 1288.30h2.4v-47.39h-2.4zM1643.78 1288.30h2.4v-52.52h-2.4zM1647.80 1288.30h2.4v-52.33h-2.4zM1651.81 1288.30h2.4v-57.37h-2.4zM1655.82 1288.30h2.4v-60.58h-2.4zM1659.83 1288.30h2.4v-66.51h-2.4zM1663.84 1288.30h2.4v-67.01h-2.4zM1667.86 1288.30h2.4v-70.25h-2.4zM1671.87 1288.30h2.4v-71.13h-2.4zM1675.88 1288.30h2.4v-76.91h-2.4zM1679.89 1288.30h2.4v-79.92h-2.4zM1683.90 1288.30h2.4v-80.36h-2.4zM1687.92 1288.30h2.4v-89.76h-2.4zM1691.93 1288.30h2.4v-84.38h-2.4zM1695.94 1288.30h2.4v-86.40h-2.4zM1699.95 1288.30h2.4v-93.02h-2.4zM1703.96 1288.30h2.4v-93.39h-2.4zM1707.98 1288.30h2.4v-94.83h-2.4zM1711.99 1288.30h2.4v-92.08h-2.4zM1716.00 1288.30h2.4v-92.59h-2.4zM1720.01 1288.30h2.4v-95.12h-2.4zM1724.02 1288.30h2.4v-91.43h-2.4zM1728.04 1288.30h2.4v-86.25h-2.4zM1732.05 1288.30h2.4v-84.50h-2.4zM1736.06 1288.30h2.4v-85.44h-2.4zM1740.07 1288.30h2.4v-85.67h-2.4zM1744.08 1288.30h2.4v-88.23h-2.4zM1748.10 1288.30h2.4v-90.64h-2.4zM1752.11 1288.30h2.4v-95.25h-2.4zM1756.12 1288.30h2.4v-86.57h-2.4zM1760.13 1288.30h2.4v-85.00h-2.4zM1764.14 1288.30h2.4v-89.64h-2.4zM1768.16 1288.30h2.4v-86.02h-2.4zM1772.17 1288.30h2.4v-91.75h-2.4zM1776.18 1288.30h2.4v-91.01h-2.4zM1780.19 1288.30h2.4v-86.00h-2.4zM1784.20 1288.30h2.4v-83.60h-2.4zM1788.22 1288.30h2.4v-81.46h-2.4zM1792.23 1288.30h2.4v-79.90h-2.4zM1796.24 1288.30h2.4v-79.89h-2.4zM1800.25 1288.30h2.4v-78.40h-2.4zM1804.26 1288.30h2.4v-77.87h-2.4zM1808.28 1288.30h2.4v-78.74h-2.4zM1812.29 1288.30h2.4v-75.70h-2.4zM1816.30 1288.30h2.4v-68.16h-2.4zM1820.31 1288.30h2.4v-66.28h-2.4zM1824.32 1288.30h2.4v-63.11h-2.4zM1828.34 1288.30h2.4v-64.62h-2.4zM1832.35 1288.30h2.4v-62.53h-2.4zM1836.36 1288.30h2.4v-58.74h-2.4zM1840.37 1288.30h2.4v-57.88h-2.4zM1844.38 1288.30h2.4v-57.79h-2.4zM1848.40 1288.30h2.4v-54.89h-2.4zM1852.41 1288.30h2.4v-51.88h-2.4zM1856.42 1288.30h2.4v-51.82h-2.4zM1860.43 1288.30h2.4v-52.91h-2.4zM1864.44 1288.30h2.4v-49.60h-2.4zM1868.46 1288.30h2.4v-50.04h-2.4zM1872.47 1288.30h2.4v-51.71h-2.4zM1876.48 1288.30h2.4v-53.07h-2.4zM1880.49 1288.30h2.4v-51.51h-2.4zM1884.50 1288.30h2.4v-51.15h-2.4zM1888.52 1288.30h2.4v-46.44h-2.4zM1892.53 1288.30h2.4v-56.07h-2.4zM1896.54 1288.30h2.4v-53.82h-2.4zM1900.55 1288.30h2.4v-51.99h-2.4zM1904.56 1288.30h2.4v-54.97h-2.4zM1908.58 1288.30h2.4v-51.81h-2.4zM1912.59 1288.30h2.4v-56.03h-2.4zM1916.60 1288.30h2.4v-52.98h-2.4zM1920.61 1288.30h2.4v-51.42h-2.4zM1924.62 1288.30h2.4v-52.95h-2.4zM1928.64 1288.30h2.4v-55.92h-2.4zM1932.65 1288.30h2.4v-58.08h-2.4zM1936.66 1288.30h2.4v-55.48h-2.4zM1940.67 1288.30h2.4v-55.70h-2.4zM1944.68 1288.30h2.4v-56.89h-2.4zM1948.70 1288.30h2.4v-55.28h-2.4zM1952.71 1288.30h2.4v-59.91h-2.4zM1956.72 1288.30h2.4v-55.15h-2.4zM1960.73 1288.30h2.4v-55.87h-2.4zM1964.74 1288.30h2.4v-64.34h-2.4zM1968.76 1288.30h2.4v-61.22h-2.4zM1972.77 1288.30h2.4v-57.79h-2.4zM1976.78 1288.30h2.4v-62.70h-2.4zM1980.79 1288.30h2.4v-60.95h-2.4zM1984.80 1288.30h2.4v-63.11h-2.4zM1988.82 1288.30h2.4v-64.80h-2.4zM1992.83 1288.30h2.4v-66.36h-2.4zM1996.84 1288.30h2.4v-69.53h-2.4zM2000.85 1288.30h2.4v-70.80h-2.4zM2004.86 1288.30h2.4v-70.80h-2.4zM2008.88 1288.30h2.4v-76.71h-2.4zM2012.89 1288.30h2.4v-78.57h-2.4zM2016.90 1288.30h2.4v-82.06h-2.4zM2020.91 1288.30h2.4v-80.16h-2.4zM2024.92 1288.30h2.4v-91.73h-2.4zM2028.94 1288.30h2.4v-87.67h-2.4zM2032.95 1288.30h2.4v-89.90h-2.4zM2036.96 1288.30h2.4v-102.58h-2.4zM2040.97 1288.30h2.4v-120.43h-2.4zM2044.98 1288.30h2.4v-126.26h-2.4zM2049.00 1288.30h2.4v-135.28h-2.4zM2053.01 1288.30h2.4v-145.70h-2.4zM2057.02 1288.30h2.4v-169.14h-2.4zM2061.03 1288.30h2.4v-181.57h-2.4zM2065.04 1288.30h2.4v-199.96h-2.4zM2069.06 1288.30h2.4v-228.53h-2.4zM2073.07 1288.30h2.4v-243.36h-2.4zM2077.08 1288.30h2.4v-269.44h-2.4zM2081.09 1288.30h2.4v-292.82h-2.4zM2085.10 1288.30h2.4v-318.08h-2.4zM2089.12 1288.30h2.4v-353.66h-2.4zM2093.13 1288.30h2.4v-374.12h-2.4zM2097.14 1288.30h2.4v-440.61h-2.4zM2101.15 1288.30h2.4v-468.68h-2.4zM2105.16 1288.30h2.4v-513.52h-2.4zM2109.18 1288.30h2.4v-557.55h-2.4zM2113.19 1288.30h2.4v-557.55h-2.4zM2117.20 1288.30h2.4v-557.55h-2.4zM2121.21 1288.30h2.4v-557.55h-2.4zM2125.22 1288.30h2.4v-557.55h-2.4zM2129.24 1288.30h2.4v-557.55h-2.4zM2133.25 1288.30h2.4v-557.55h-2.4zM2137.26 1288.30h2.4v-557.55h-2.4zM2141.27 1288.30h2.4v-557.55h-2.4zM2145.28 1288.30h2.4v-557.55h-2.4zM2149.30 1288.30h2.4v-557.55h-2.4zM2153.31 1288.30h2.4v-557.55h-2.4zM2157.32 1288.30h2.4v-557.55h-2.4zM2161.33 1288.30h2.4v-557.55h-2.4zM2165.34 1288.30h2.4v-557.55h-2.4zM2169.36 1288.30h2.4v-503.32h-2.4zM2173.37 1288.30h2.4v-492.69h-2.4zM2177.38 1288.30h2.4v-514.12h-2.4zM2181.39 1288.30h2.4v-506.94h-2.4zM2185.40 1288.30h2.4v-517.23h-2.4zM2189.42 1288.30h2.4v-553.34h-2.4zM2193.43 1288.30h2.4v-492.95h-2.4zM2197.44 1288.30h2.4v-398.24h-2.4zM2201.45 1288.30h2.4v-307.97h-2.4zM2205.46 1288.30h2.4v-215.02h-2.4zM2209.48 1288.30h2.4v-105.52h-2.4zM2213.49 1288.30h2.4v-24.79h-2.4zM2217.50 1288.30h2.4v-6.61h-2.4zM2221.51 1288.30h2.4v-4.57h-2.4zM2225.52 1288.30h2.4v-1.89h-2.4z"/>
<rect x="1316" y="1288.3" width="1022.5" height="43.0" fill="url(#g)" stroke="#262626" stroke-width="2"/>
<path d="M1316.0 1288.3v8.5 M1316.0 1331.3v-5 M1516.6 1288.3v8.5 M1516.6 1331.3v-5 M1717.2 1288.3v8.5 M1717.2 1331.3v-5 M1917.8 1288.3v8.5 M1917.8 1331.3v-5 M2118.4 1288.3v8.5 M2118.4 1331.3v-5 M2319.0 1288.3v8.5 M2319.0 1331.3v-5 M2338.5 1309.8h-8" stroke="#262626" stroke-width="2" fill="none"/>
<path d="M1316 1309.8h8" stroke="#3a3a3a" stroke-width="2" fill="none"/>
<text transform="translate(1299.5,1306.7) scale(1.245,1)" text-anchor="end" class="n">0</text>
<text transform="translate(1299.5,1196.4) scale(1.245,1)" text-anchor="end" class="n">1000</text>
<text transform="translate(1299.5,1089.3) scale(1.245,1)" text-anchor="end" class="n">2000</text>
<text transform="translate(1299.5,982.2) scale(1.245,1)" text-anchor="end" class="n">3000</text>
<text transform="translate(1299.5,875.1) scale(1.245,1)" text-anchor="end" class="n">4000</text>
<text transform="translate(1316.0,1382.0) scale(1.245,1)" text-anchor="middle" class="n">0</text>
<text transform="translate(1516.6,1382.0) scale(1.245,1)" text-anchor="middle" class="n">50</text>
<text transform="translate(1717.2,1382.0) scale(1.245,1)" text-anchor="middle" class="n">100</text>
<text transform="translate(1917.8,1382.0) scale(1.245,1)" text-anchor="middle" class="n">150</text>
<text transform="translate(2118.4,1382.0) scale(1.245,1)" text-anchor="middle" class="n">200</text>
<text transform="translate(2319.0,1382.0) scale(1.245,1)" text-anchor="middle" class="n">250</text>
<text x="1624.4" y="1427.4" class="s" textLength="51.4" lengthAdjust="spacingAndGlyphs">(d)</text>
<text x="1685.2" y="1427.4" class="c" textLength="149.5" lengthAdjust="spacingAndGlyphs">JetPlane</text>
<clipPath id="ce"><rect x="126.5" y="1453.6" width="1029.2" height="526.8000000000002"/></clipPath>
<rect x="129.5" y="1454.1" width="1023.2" height="526.3000000000002" fill="none" stroke="#262626" stroke-width="2"/>
<path d="M129.5 1454.1v6.5 M129.5 1980.4v-6.5 M330.1 1454.1v6.5 M330.1 1980.4v-6.5 M530.8 1454.1v6.5 M530.8 1980.4v-6.5 M731.4 1454.1v6.5 M731.4 1980.4v-6.5 M932.1 1454.1v6.5 M932.1 1980.4v-6.5 M1132.8 1454.1v6.5 M1132.8 1980.4v-6.5 M129.5 1980.4h8 M1152.7 1980.4h-8 M129.5 1875.1h8 M1152.7 1875.1h-8 M129.5 1769.9h8 M1152.7 1769.9h-8 M129.5 1664.6h8 M1152.7 1664.6h-8 M129.5 1559.4h8 M1152.7 1559.4h-8 M129.5 1454.1h8 M1152.7 1454.1h-8" stroke="#262626" stroke-width="2" fill="none"/>
<path clip-path="url(#ce)" fill="#0067B9" d="M128.30 1980.40h2.4v-557.88h-2.4zM132.31 1980.40h2.4v-557.88h-2.4zM136.33 1980.40h2.4v-507.12h-2.4zM140.34 1980.40h2.4v-518.75h-2.4zM144.35 1980.40h2.4v-523.38h-2.4zM148.37 1980.40h2.4v-557.88h-2.4zM152.38 1980.40h2.4v-517.91h-2.4zM156.39 1980.40h2.4v-516.53h-2.4zM160.40 1980.40h2.4v-557.88h-2.4zM164.42 1980.40h2.4v-557.88h-2.4zM168.43 1980.40h2.4v-557.88h-2.4zM172.44 1980.40h2.4v-557.88h-2.4zM176.46 1980.40h2.4v-557.88h-2.4zM180.47 1980.40h2.4v-557.88h-2.4zM184.48 1980.40h2.4v-515.52h-2.4zM188.50 1980.40h2.4v-504.45h-2.4zM192.51 1980.40h2.4v-557.88h-2.4zM196.52 1980.40h2.4v-557.88h-2.4zM200.53 1980.40h2.4v-557.88h-2.4zM204.55 1980.40h2.4v-557.88h-2.4zM208.56 1980.40h2.4v-557.88h-2.4zM212.57 1980.40h2.4v-557.88h-2.4zM216.59 1980.40h2.4v-557.88h-2.4zM220.60 1980.40h2.4v-557.88h-2.4zM224.61 1980.40h2.4v-557.88h-2.4zM228.62 1980.40h2.4v-557.88h-2.4zM232.64 1980.40h2.4v-557.88h-2.4zM236.65 1980.40h2.4v-557.88h-2.4zM240.66 1980.40h2.4v-557.88h-2.4zM244.68 1980.40h2.4v-519.95h-2.4zM248.69 1980.40h2.4v-557.88h-2.4zM252.70 1980.40h2.4v-557.88h-2.4zM256.72 1980.40h2.4v-523.08h-2.4zM260.73 1980.40h2.4v-557.88h-2.4zM264.74 1980.40h2.4v-511.07h-2.4zM268.75 1980.40h2.4v-515.65h-2.4zM272.77 1980.40h2.4v-557.88h-2.4zM276.78 1980.40h2.4v-557.88h-2.4zM280.79 1980.40h2.4v-557.88h-2.4zM284.81 1980.40h2.4v-557.88h-2.4zM288.82 1980.40h2.4v-515.95h-2.4zM292.83 1980.40h2.4v-557.88h-2.4zM296.85 1980.40h2.4v-557.88h-2.4zM300.86 1980.40h2.4v-557.88h-2.4zM304.87 1980.40h2.4v-557.88h-2.4zM308.89 1980.40h2.4v-557.88h-2.4zM312.90 1980.40h2.4v-557.88h-2.4zM316.91 1980.40h2.4v-515.03h-2.4zM320.92 1980.40h2.4v-518.57h-2.4zM324.94 1980.40h2.4v-557.88h-2.4zM328.95 1980.40h2.4v-557.88h-2.4zM332.96 1980.40h2.4v-557.88h-2.4zM336.98 1980.40h2.4v-517.82h-2.4zM340.99 1980.40h2.4v-511.30h-2.4zM345.00 1980.40h2.4v-557.88h-2.4zM349.02 1980.40h2.4v-557.88h-2.4zM353.03 1980.40h2.4v-557.88h-2.4zM357.04 1980.40h2.4v-557.88h-2.4zM361.05 1980.40h2.4v-522.46h-2.4zM365.07 1980.40h2.4v-557.88h-2.4zM369.08 1980.40h2.4v-521.43h-2.4zM373.09 1980.40h2.4v-557.88h-2.4zM377.11 1980.40h2.4v-557.88h-2.4zM381.12 1980.40h2.4v-517.37h-2.4zM385.13 1980.40h2.4v-557.88h-2.4zM389.14 1980.40h2.4v-557.88h-2.4zM393.16 1980.40h2.4v-521.12h-2.4zM397.17 1980.40h2.4v-557.88h-2.4zM401.18 1980.40h2.4v-557.88h-2.4zM405.20 1980.40h2.4v-517.64h-2.4zM409.21 1980.40h2.4v-557.88h-2.4zM413.22 1980.40h2.4v-557.88h-2.4zM417.24 1980.40h2.4v-519.44h-2.4zM421.25 1980.40h2.4v-519.94h-2.4zM425.26 1980.40h2.4v-557.88h-2.4zM429.27 1980.40h2.4v-557.88h-2.4zM433.29 1980.40h2.4v-557.88h-2.4zM437.30 1980.40h2.4v-557.88h-2.4zM441.31 1980.40h2.4v-557.88h-2.4zM445.33 1980.40h2.4v-557.88h-2.4zM449.34 1980.40h2.4v-557.88h-2.4zM453.35 1980.40h2.4v-557.88h-2.4zM457.37 1980.40h2.4v-557.88h-2.4zM461.38 1980.40h2.4v-557.88h-2.4zM465.39 1980.40h2.4v-557.88h-2.4zM469.41 1980.40h2.4v-557.88h-2.4zM473.42 1980.40h2.4v-557.88h-2.4zM477.43 1980.40h2.4v-515.03h-2.4zM481.44 1980.40h2.4v-522.62h-2.4zM485.46 1980.40h2.4v-557.88h-2.4zM489.47 1980.40h2.4v-557.88h-2.4zM493.48 1980.40h2.4v-557.88h-2.4zM497.50 1980.40h2.4v-557.88h-2.4zM501.51 1980.40h2.4v-557.88h-2.4zM505.52 1980.40h2.4v-557.88h-2.4zM509.54 1980.40h2.4v-557.88h-2.4zM513.55 1980.40h2.4v-557.88h-2.4zM517.56 1980.40h2.4v-557.88h-2.4zM521.57 1980.40h2.4v-519.58h-2.4zM525.59 1980.40h2.4v-557.88h-2.4zM529.60 1980.40h2.4v-522.68h-2.4zM533.61 1980.40h2.4v-557.88h-2.4zM537.63 1980.40h2.4v-557.88h-2.4zM541.64 1980.40h2.4v-557.88h-2.4zM545.65 1980.40h2.4v-557.88h-2.4zM549.66 1980.40h2.4v-515.31h-2.4zM553.68 1980.40h2.4v-557.88h-2.4zM557.69 1980.40h2.4v-557.88h-2.4zM561.70 1980.40h2.4v-557.88h-2.4zM565.72 1980.40h2.4v-519.57h-2.4zM569.73 1980.40h2.4v-557.88h-2.4zM573.74 1980.40h2.4v-557.88h-2.4zM577.76 1980.40h2.4v-521.05h-2.4zM581.77 1980.40h2.4v-557.88h-2.4zM585.78 1980.40h2.4v-557.88h-2.4zM589.79 1980.40h2.4v-522.60h-2.4zM593.81 1980.40h2.4v-557.88h-2.4zM597.82 1980.40h2.4v-518.57h-2.4zM601.83 1980.40h2.4v-557.88h-2.4zM605.85 1980.40h2.4v-557.88h-2.4zM609.86 1980.40h2.4v-520.42h-2.4zM613.87 1980.40h2.4v-522.99h-2.4zM617.89 1980.40h2.4v-557.88h-2.4zM621.90 1980.40h2.4v-557.88h-2.4zM625.91 1980.40h2.4v-557.88h-2.4zM629.92 1980.40h2.4v-557.88h-2.4zM633.94 1980.40h2.4v-557.88h-2.4zM637.95 1980.40h2.4v-523.89h-2.4zM641.96 1980.40h2.4v-557.88h-2.4zM645.98 1980.40h2.4v-557.88h-2.4zM649.99 1980.40h2.4v-557.88h-2.4zM654.00 1980.40h2.4v-520.49h-2.4zM658.02 1980.40h2.4v-518.67h-2.4zM662.03 1980.40h2.4v-557.88h-2.4zM666.04 1980.40h2.4v-557.88h-2.4zM670.05 1980.40h2.4v-557.88h-2.4zM674.07 1980.40h2.4v-557.88h-2.4zM678.08 1980.40h2.4v-519.28h-2.4zM682.09 1980.40h2.4v-557.88h-2.4zM686.11 1980.40h2.4v-557.88h-2.4zM690.12 1980.40h2.4v-507.81h-2.4zM694.13 1980.40h2.4v-557.88h-2.4zM698.15 1980.40h2.4v-515.56h-2.4zM702.16 1980.40h2.4v-557.88h-2.4zM706.17 1980.40h2.4v-557.88h-2.4zM710.18 1980.40h2.4v-557.88h-2.4zM714.20 1980.40h2.4v-557.88h-2.4zM718.21 1980.40h2.4v-557.88h-2.4zM722.22 1980.40h2.4v-557.88h-2.4zM726.24 1980.40h2.4v-557.88h-2.4zM730.25 1980.40h2.4v-515.32h-2.4zM734.26 1980.40h2.4v-557.88h-2.4zM738.28 1980.40h2.4v-557.88h-2.4zM742.29 1980.40h2.4v-557.88h-2.4zM746.30 1980.40h2.4v-557.88h-2.4zM750.31 1980.40h2.4v-503.10h-2.4zM754.33 1980.40h2.4v-557.88h-2.4zM758.34 1980.40h2.4v-557.88h-2.4zM762.35 1980.40h2.4v-557.88h-2.4zM766.37 1980.40h2.4v-557.88h-2.4zM770.38 1980.40h2.4v-557.88h-2.4zM774.39 1980.40h2.4v-557.88h-2.4zM778.41 1980.40h2.4v-557.88h-2.4zM782.42 1980.40h2.4v-557.88h-2.4zM786.43 1980.40h2.4v-557.88h-2.4zM790.44 1980.40h2.4v-557.88h-2.4zM794.46 1980.40h2.4v-557.88h-2.4zM798.47 1980.40h2.4v-557.88h-2.4zM802.48 1980.40h2.4v-516.62h-2.4zM806.50 1980.40h2.4v-557.88h-2.4zM810.51 1980.40h2.4v-557.88h-2.4zM814.52 1980.40h2.4v-519.67h-2.4zM818.54 1980.40h2.4v-519.23h-2.4zM822.55 1980.40h2.4v-500.91h-2.4zM826.56 1980.40h2.4v-497.96h-2.4zM830.57 1980.40h2.4v-557.88h-2.4zM834.59 1980.40h2.4v-557.88h-2.4zM838.60 1980.40h2.4v-557.88h-2.4zM842.61 1980.40h2.4v-557.88h-2.4zM846.63 1980.40h2.4v-557.88h-2.4zM850.64 1980.40h2.4v-557.88h-2.4zM854.65 1980.40h2.4v-557.88h-2.4zM858.67 1980.40h2.4v-557.88h-2.4zM862.68 1980.40h2.4v-520.43h-2.4zM866.69 1980.40h2.4v-557.88h-2.4zM870.70 1980.40h2.4v-557.88h-2.4zM874.72 1980.40h2.4v-557.88h-2.4zM878.73 1980.40h2.4v-557.88h-2.4zM882.74 1980.40h2.4v-557.88h-2.4zM886.76 1980.40h2.4v-557.88h-2.4zM890.77 1980.40h2.4v-557.88h-2.4zM894.78 1980.40h2.4v-520.41h-2.4zM898.80 1980.40h2.4v-557.88h-2.4zM902.81 1980.40h2.4v-557.88h-2.4zM906.82 1980.40h2.4v-557.88h-2.4zM910.83 1980.40h2.4v-557.88h-2.4zM914.85 1980.40h2.4v-557.88h-2.4zM918.86 1980.40h2.4v-557.88h-2.4zM922.87 1980.40h2.4v-523.80h-2.4zM926.89 1980.40h2.4v-557.88h-2.4zM930.90 1980.40h2.4v-557.88h-2.4zM934.91 1980.40h2.4v-516.63h-2.4zM938.93 1980.40h2.4v-557.88h-2.4zM942.94 1980.40h2.4v-557.88h-2.4zM946.95 1980.40h2.4v-557.88h-2.4zM950.96 1980.40h2.4v-557.88h-2.4zM954.98 1980.40h2.4v-521.86h-2.4zM958.99 1980.40h2.4v-557.88h-2.4zM963.00 1980.40h2.4v-557.88h-2.4zM967.02 1980.40h2.4v-557.88h-2.4zM971.03 1980.40h2.4v-557.88h-2.4zM975.04 1980.40h2.4v-523.92h-2.4zM979.06 1980.40h2.4v-557.88h-2.4zM983.07 1980.40h2.4v-557.88h-2.4zM987.08 1980.40h2.4v-557.88h-2.4zM991.09 1980.40h2.4v-519.78h-2.4zM995.11 1980.40h2.4v-517.39h-2.4zM999.12 1980.40h2.4v-557.88h-2.4zM1003.13 1980.40h2.4v-557.88h-2.4zM1007.15 1980.40h2.4v-520.06h-2.4zM1011.16 1980.40h2.4v-557.88h-2.4zM1015.17 1980.40h2.4v-557.88h-2.4zM1019.19 1980.40h2.4v-520.75h-2.4zM1023.20 1980.40h2.4v-557.88h-2.4zM1027.21 1980.40h2.4v-557.88h-2.4zM1031.22 1980.40h2.4v-557.88h-2.4zM1035.24 1980.40h2.4v-557.88h-2.4zM1039.25 1980.40h2.4v-557.88h-2.4zM1043.26 1980.40h2.4v-557.88h-2.4zM1047.28 1980.40h2.4v-557.88h-2.4zM1051.29 1980.40h2.4v-557.88h-2.4zM1055.30 1980.40h2.4v-557.88h-2.4zM1059.32 1980.40h2.4v-557.88h-2.4zM1063.33 1980.40h2.4v-557.88h-2.4zM1067.34 1980.40h2.4v-557.88h-2.4zM1071.35 1980.40h2.4v-517.96h-2.4zM1075.37 1980.40h2.4v-522.65h-2.4zM1079.38 1980.40h2.4v-557.88h-2.4zM1083.39 1980.40h2.4v-557.88h-2.4zM1087.41 1980.40h2.4v-524.09h-2.4zM1091.42 1980.40h2.4v-518.58h-2.4zM1095.43 1980.40h2.4v-557.88h-2.4zM1099.45 1980.40h2.4v-557.88h-2.4zM1103.46 1980.40h2.4v-557.88h-2.4zM1107.47 1980.40h2.4v-557.88h-2.4zM1111.48 1980.40h2.4v-519.17h-2.4zM1115.50 1980.40h2.4v-515.99h-2.4zM1119.51 1980.40h2.4v-557.88h-2.4zM1123.52 1980.40h2.4v-557.88h-2.4zM1127.54 1980.40h2.4v-557.88h-2.4zM1131.55 1980.40h2.4v-557.88h-2.4zM1135.56 1980.40h2.4v-557.88h-2.4zM1139.58 1980.40h2.4v-557.88h-2.4zM1143.59 1980.40h2.4v-557.88h-2.4zM1147.60 1980.40h2.4v-557.88h-2.4zM1151.62 1980.40h2.4v-557.88h-2.4z"/>
<rect x="129.5" y="1980.4" width="1023.2" height="43.19999999999982" fill="url(#g)" stroke="#262626" stroke-width="2"/>
<path d="M129.5 1980.4v8.5 M129.5 2023.6v-5 M330.1 1980.4v8.5 M330.1 2023.6v-5 M530.8 1980.4v8.5 M530.8 2023.6v-5 M731.4 1980.4v8.5 M731.4 2023.6v-5 M932.1 1980.4v8.5 M932.1 2023.6v-5 M1132.8 1980.4v8.5 M1132.8 2023.6v-5 M1152.7 2002.0h-8" stroke="#262626" stroke-width="2" fill="none"/>
<path d="M129.5 2002.0h8" stroke="#3a3a3a" stroke-width="2" fill="none"/>
<text transform="translate(115.0,1998.1) scale(1.245,1)" text-anchor="end" class="n">0</text>
<text transform="translate(115.0,1889.6) scale(1.245,1)" text-anchor="end" class="n">200</text>
<text transform="translate(115.0,1784.4) scale(1.245,1)" text-anchor="end" class="n">400</text>
<text transform="translate(115.0,1679.1) scale(1.245,1)" text-anchor="end" class="n">600</text>
<text transform="translate(115.0,1573.9) scale(1.245,1)" text-anchor="end" class="n">800</text>
<text transform="translate(115.0,1468.6) scale(1.245,1)" text-anchor="end" class="n">1000</text>
<text transform="translate(129.5,2074.6) scale(1.245,1)" text-anchor="middle" class="n">0</text>
<text transform="translate(330.1,2074.6) scale(1.245,1)" text-anchor="middle" class="n">50</text>
<text transform="translate(530.8,2074.6) scale(1.245,1)" text-anchor="middle" class="n">100</text>
<text transform="translate(731.4,2074.6) scale(1.245,1)" text-anchor="middle" class="n">150</text>
<text transform="translate(932.1,2074.6) scale(1.245,1)" text-anchor="middle" class="n">200</text>
<text transform="translate(1132.8,2074.6) scale(1.245,1)" text-anchor="middle" class="n">250</text>
<text x="467.5" y="2121.8" class="c" textLength="264.5" lengthAdjust="spacingAndGlyphs">(e) Cipher Lake</text>
<clipPath id="cf"><rect x="1314.4" y="1453.6" width="1029.6" height="526.9000000000001"/></clipPath>
<rect x="1317.4" y="1454.1" width="1023.5999999999999" height="526.4000000000001" fill="none" stroke="#262626" stroke-width="2"/>
<path d="M1317.4 1454.1v6.5 M1317.4 1980.5v-6.5 M1518.2 1454.1v6.5 M1518.2 1980.5v-6.5 M1719.0 1454.1v6.5 M1719.0 1980.5v-6.5 M1919.7 1454.1v6.5 M1919.7 1980.5v-6.5 M2120.5 1454.1v6.5 M2120.5 1980.5v-6.5 M2321.3 1454.1v6.5 M2321.3 1980.5v-6.5 M1317.4 1980.5h8 M2341 1980.5h-8 M1317.4 1875.2h8 M2341 1875.2h-8 M1317.4 1770.0h8 M2341 1770.0h-8 M1317.4 1664.7h8 M2341 1664.7h-8 M1317.4 1559.5h8 M2341 1559.5h-8 M1317.4 1454.2h8 M2341 1454.2h-8" stroke="#262626" stroke-width="2" fill="none"/>
<path clip-path="url(#cf)" fill="#0067B9" d="M1316.20 1980.50h2.4v-557.88h-2.4zM1320.22 1980.50h2.4v-557.88h-2.4zM1324.23 1980.50h2.4v-557.88h-2.4zM1328.25 1980.50h2.4v-557.88h-2.4zM1332.26 1980.50h2.4v-557.88h-2.4zM1336.28 1980.50h2.4v-557.88h-2.4zM1340.29 1980.50h2.4v-557.88h-2.4zM1344.31 1980.50h2.4v-519.64h-2.4zM1348.32 1980.50h2.4v-557.88h-2.4zM1352.34 1980.50h2.4v-557.88h-2.4zM1356.36 1980.50h2.4v-516.71h-2.4zM1360.37 1980.50h2.4v-557.88h-2.4zM1364.39 1980.50h2.4v-516.38h-2.4zM1368.40 1980.50h2.4v-557.88h-2.4zM1372.42 1980.50h2.4v-557.88h-2.4zM1376.43 1980.50h2.4v-557.88h-2.4zM1380.45 1980.50h2.4v-557.88h-2.4zM1384.47 1980.50h2.4v-557.88h-2.4zM1388.48 1980.50h2.4v-557.88h-2.4zM1392.50 1980.50h2.4v-557.88h-2.4zM1396.51 1980.50h2.4v-557.88h-2.4zM1400.53 1980.50h2.4v-557.88h-2.4zM1404.54 1980.50h2.4v-557.88h-2.4zM1408.56 1980.50h2.4v-557.88h-2.4zM1412.57 1980.50h2.4v-521.49h-2.4zM1416.59 1980.50h2.4v-557.88h-2.4zM1420.61 1980.50h2.4v-557.88h-2.4zM1424.62 1980.50h2.4v-557.88h-2.4zM1428.64 1980.50h2.4v-557.88h-2.4zM1432.65 1980.50h2.4v-557.88h-2.4zM1436.67 1980.50h2.4v-557.88h-2.4zM1440.68 1980.50h2.4v-557.88h-2.4zM1444.70 1980.50h2.4v-557.88h-2.4zM1448.71 1980.50h2.4v-557.88h-2.4zM1452.73 1980.50h2.4v-521.95h-2.4zM1456.75 1980.50h2.4v-557.88h-2.4zM1460.76 1980.50h2.4v-514.88h-2.4zM1464.78 1980.50h2.4v-557.88h-2.4zM1468.79 1980.50h2.4v-519.60h-2.4zM1472.81 1980.50h2.4v-557.88h-2.4zM1476.82 1980.50h2.4v-557.88h-2.4zM1480.84 1980.50h2.4v-557.88h-2.4zM1484.86 1980.50h2.4v-557.88h-2.4zM1488.87 1980.50h2.4v-557.88h-2.4zM1492.89 1980.50h2.4v-557.88h-2.4zM1496.90 1980.50h2.4v-557.88h-2.4zM1500.92 1980.50h2.4v-557.88h-2.4zM1504.93 1980.50h2.4v-557.88h-2.4zM1508.95 1980.50h2.4v-557.88h-2.4zM1512.96 1980.50h2.4v-557.88h-2.4zM1516.98 1980.50h2.4v-557.88h-2.4zM1521.00 1980.50h2.4v-557.88h-2.4zM1525.01 1980.50h2.4v-557.88h-2.4zM1529.03 1980.50h2.4v-557.88h-2.4zM1533.04 1980.50h2.4v-557.88h-2.4zM1537.06 1980.50h2.4v-557.88h-2.4zM1541.07 1980.50h2.4v-557.88h-2.4zM1545.09 1980.50h2.4v-557.88h-2.4zM1549.10 1980.50h2.4v-557.88h-2.4zM1553.12 1980.50h2.4v-520.29h-2.4zM1557.14 1980.50h2.4v-557.88h-2.4zM1561.15 1980.50h2.4v-557.88h-2.4zM1565.17 1980.50h2.4v-557.88h-2.4zM1569.18 1980.50h2.4v-557.88h-2.4zM1573.20 1980.50h2.4v-557.88h-2.4zM1577.21 1980.50h2.4v-557.88h-2.4zM1581.23 1980.50h2.4v-557.88h-2.4zM1585.25 1980.50h2.4v-557.88h-2.4zM1589.26 1980.50h2.4v-557.88h-2.4zM1593.28 1980.50h2.4v-515.34h-2.4zM1597.29 1980.50h2.4v-557.88h-2.4zM1601.31 1980.50h2.4v-557.88h-2.4zM1605.32 1980.50h2.4v-557.88h-2.4zM1609.34 1980.50h2.4v-557.88h-2.4zM1613.35 1980.50h2.4v-557.88h-2.4zM1617.37 1980.50h2.4v-557.88h-2.4zM1621.39 1980.50h2.4v-557.88h-2.4zM1625.40 1980.50h2.4v-517.36h-2.4zM1629.42 1980.50h2.4v-557.88h-2.4zM1633.43 1980.50h2.4v-557.88h-2.4zM1637.45 1980.50h2.4v-517.12h-2.4zM1641.46 1980.50h2.4v-557.88h-2.4zM1645.48 1980.50h2.4v-557.88h-2.4zM1649.49 1980.50h2.4v-557.88h-2.4zM1653.51 1980.50h2.4v-516.57h-2.4zM1657.53 1980.50h2.4v-557.88h-2.4zM1661.54 1980.50h2.4v-557.88h-2.4zM1665.56 1980.50h2.4v-557.88h-2.4zM1669.57 1980.50h2.4v-557.88h-2.4zM1673.59 1980.50h2.4v-557.88h-2.4zM1677.60 1980.50h2.4v-557.88h-2.4zM1681.62 1980.50h2.4v-557.88h-2.4zM1685.64 1980.50h2.4v-516.29h-2.4zM1689.65 1980.50h2.4v-557.88h-2.4zM1693.67 1980.50h2.4v-517.73h-2.4zM1697.68 1980.50h2.4v-514.77h-2.4zM1701.70 1980.50h2.4v-557.88h-2.4zM1705.71 1980.50h2.4v-557.88h-2.4zM1709.73 1980.50h2.4v-557.88h-2.4zM1713.74 1980.50h2.4v-502.81h-2.4zM1717.76 1980.50h2.4v-557.88h-2.4zM1721.78 1980.50h2.4v-557.88h-2.4zM1725.79 1980.50h2.4v-557.88h-2.4zM1729.81 1980.50h2.4v-557.88h-2.4zM1733.82 1980.50h2.4v-516.70h-2.4zM1737.84 1980.50h2.4v-557.88h-2.4zM1741.85 1980.50h2.4v-516.36h-2.4zM1745.87 1980.50h2.4v-516.32h-2.4zM1749.88 1980.50h2.4v-557.88h-2.4zM1753.90 1980.50h2.4v-557.88h-2.4zM1757.92 1980.50h2.4v-523.75h-2.4zM1761.93 1980.50h2.4v-557.88h-2.4zM1765.95 1980.50h2.4v-557.88h-2.4zM1769.96 1980.50h2.4v-557.88h-2.4zM1773.98 1980.50h2.4v-557.88h-2.4zM1777.99 1980.50h2.4v-557.88h-2.4zM1782.01 1980.50h2.4v-557.88h-2.4zM1786.03 1980.50h2.4v-557.88h-2.4zM1790.04 1980.50h2.4v-500.78h-2.4zM1794.06 1980.50h2.4v-557.88h-2.4zM1798.07 1980.50h2.4v-514.82h-2.4zM1802.09 1980.50h2.4v-557.88h-2.4zM1806.10 1980.50h2.4v-516.95h-2.4zM1810.12 1980.50h2.4v-557.88h-2.4zM1814.13 1980.50h2.4v-523.39h-2.4zM1818.15 1980.50h2.4v-517.36h-2.4zM1822.17 1980.50h2.4v-517.48h-2.4zM1826.18 1980.50h2.4v-557.88h-2.4zM1830.20 1980.50h2.4v-503.93h-2.4zM1834.21 1980.50h2.4v-557.88h-2.4zM1838.23 1980.50h2.4v-519.47h-2.4zM1842.24 1980.50h2.4v-557.88h-2.4zM1846.26 1980.50h2.4v-557.88h-2.4zM1850.27 1980.50h2.4v-557.88h-2.4zM1854.29 1980.50h2.4v-557.88h-2.4zM1858.31 1980.50h2.4v-521.33h-2.4zM1862.32 1980.50h2.4v-519.09h-2.4zM1866.34 1980.50h2.4v-557.88h-2.4zM1870.35 1980.50h2.4v-557.88h-2.4zM1874.37 1980.50h2.4v-522.65h-2.4zM1878.38 1980.50h2.4v-557.88h-2.4zM1882.40 1980.50h2.4v-557.88h-2.4zM1886.42 1980.50h2.4v-557.88h-2.4zM1890.43 1980.50h2.4v-557.88h-2.4zM1894.45 1980.50h2.4v-557.88h-2.4zM1898.46 1980.50h2.4v-557.88h-2.4zM1902.48 1980.50h2.4v-520.46h-2.4zM1906.49 1980.50h2.4v-557.88h-2.4zM1910.51 1980.50h2.4v-557.88h-2.4zM1914.52 1980.50h2.4v-557.88h-2.4zM1918.54 1980.50h2.4v-557.88h-2.4zM1922.56 1980.50h2.4v-557.88h-2.4zM1926.57 1980.50h2.4v-557.88h-2.4zM1930.59 1980.50h2.4v-557.88h-2.4zM1934.60 1980.50h2.4v-557.88h-2.4zM1938.62 1980.50h2.4v-557.88h-2.4zM1942.63 1980.50h2.4v-557.88h-2.4zM1946.65 1980.50h2.4v-518.29h-2.4zM1950.66 1980.50h2.4v-517.42h-2.4zM1954.68 1980.50h2.4v-557.88h-2.4zM1958.70 1980.50h2.4v-519.05h-2.4zM1962.71 1980.50h2.4v-557.88h-2.4zM1966.73 1980.50h2.4v-557.88h-2.4zM1970.74 1980.50h2.4v-557.88h-2.4zM1974.76 1980.50h2.4v-557.88h-2.4zM1978.77 1980.50h2.4v-515.77h-2.4zM1982.79 1980.50h2.4v-509.02h-2.4zM1986.81 1980.50h2.4v-557.88h-2.4zM1990.82 1980.50h2.4v-515.74h-2.4zM1994.84 1980.50h2.4v-557.88h-2.4zM1998.85 1980.50h2.4v-557.88h-2.4zM2002.87 1980.50h2.4v-557.88h-2.4zM2006.88 1980.50h2.4v-557.88h-2.4zM2010.90 1980.50h2.4v-557.88h-2.4zM2014.91 1980.50h2.4v-557.88h-2.4zM2018.93 1980.50h2.4v-557.88h-2.4zM2022.95 1980.50h2.4v-515.57h-2.4zM2026.96 1980.50h2.4v-557.88h-2.4zM2030.98 1980.50h2.4v-557.88h-2.4zM2034.99 1980.50h2.4v-557.88h-2.4zM2039.01 1980.50h2.4v-557.88h-2.4zM2043.02 1980.50h2.4v-557.88h-2.4zM2047.04 1980.50h2.4v-557.88h-2.4zM2051.05 1980.50h2.4v-557.88h-2.4zM2055.07 1980.50h2.4v-557.88h-2.4zM2059.09 1980.50h2.4v-557.88h-2.4zM2063.10 1980.50h2.4v-518.58h-2.4zM2067.12 1980.50h2.4v-557.88h-2.4zM2071.13 1980.50h2.4v-521.84h-2.4zM2075.15 1980.50h2.4v-557.88h-2.4zM2079.16 1980.50h2.4v-557.88h-2.4zM2083.18 1980.50h2.4v-557.88h-2.4zM2087.20 1980.50h2.4v-557.88h-2.4zM2091.21 1980.50h2.4v-557.88h-2.4zM2095.23 1980.50h2.4v-523.76h-2.4zM2099.24 1980.50h2.4v-557.88h-2.4zM2103.26 1980.50h2.4v-557.88h-2.4zM2107.27 1980.50h2.4v-557.88h-2.4zM2111.29 1980.50h2.4v-557.88h-2.4zM2115.30 1980.50h2.4v-557.88h-2.4zM2119.32 1980.50h2.4v-557.88h-2.4zM2123.34 1980.50h2.4v-557.88h-2.4zM2127.35 1980.50h2.4v-505.81h-2.4zM2131.37 1980.50h2.4v-557.88h-2.4zM2135.38 1980.50h2.4v-557.88h-2.4zM2139.40 1980.50h2.4v-557.88h-2.4zM2143.41 1980.50h2.4v-557.88h-2.4zM2147.43 1980.50h2.4v-557.88h-2.4zM2151.44 1980.50h2.4v-557.88h-2.4zM2155.46 1980.50h2.4v-518.70h-2.4zM2159.48 1980.50h2.4v-557.88h-2.4zM2163.49 1980.50h2.4v-557.88h-2.4zM2167.51 1980.50h2.4v-557.88h-2.4zM2171.52 1980.50h2.4v-557.88h-2.4zM2175.54 1980.50h2.4v-557.88h-2.4zM2179.55 1980.50h2.4v-557.88h-2.4zM2183.57 1980.50h2.4v-557.88h-2.4zM2187.59 1980.50h2.4v-519.30h-2.4zM2191.60 1980.50h2.4v-557.88h-2.4zM2195.62 1980.50h2.4v-524.18h-2.4zM2199.63 1980.50h2.4v-557.88h-2.4zM2203.65 1980.50h2.4v-557.88h-2.4zM2207.66 1980.50h2.4v-557.88h-2.4zM2211.68 1980.50h2.4v-557.88h-2.4zM2215.69 1980.50h2.4v-557.88h-2.4zM2219.71 1980.50h2.4v-557.88h-2.4zM2223.73 1980.50h2.4v-557.88h-2.4zM2227.74 1980.50h2.4v-557.88h-2.4zM2231.76 1980.50h2.4v-522.85h-2.4zM2235.77 1980.50h2.4v-557.88h-2.4zM2239.79 1980.50h2.4v-557.88h-2.4zM2243.80 1980.50h2.4v-557.88h-2.4zM2247.82 1980.50h2.4v-557.88h-2.4zM2251.83 1980.50h2.4v-557.88h-2.4zM2255.85 1980.50h2.4v-557.88h-2.4zM2259.87 1980.50h2.4v-557.88h-2.4zM2263.88 1980.50h2.4v-557.88h-2.4zM2267.90 1980.50h2.4v-515.03h-2.4zM2271.91 1980.50h2.4v-557.88h-2.4zM2275.93 1980.50h2.4v-557.88h-2.4zM2279.94 1980.50h2.4v-557.88h-2.4zM2283.96 1980.50h2.4v-517.08h-2.4zM2287.98 1980.50h2.4v-557.88h-2.4zM2291.99 1980.50h2.4v-557.88h-2.4zM2296.01 1980.50h2.4v-515.62h-2.4zM2300.02 1980.50h2.4v-521.12h-2.4zM2304.04 1980.50h2.4v-520.10h-2.4zM2308.05 1980.50h2.4v-557.88h-2.4zM2312.07 1980.50h2.4v-557.88h-2.4zM2316.08 1980.50h2.4v-518.66h-2.4zM2320.10 1980.50h2.4v-557.88h-2.4zM2324.12 1980.50h2.4v-557.88h-2.4zM2328.13 1980.50h2.4v-520.38h-2.4zM2332.15 1980.50h2.4v-557.88h-2.4zM2336.16 1980.50h2.4v-557.88h-2.4zM2340.18 1980.50h2.4v-557.88h-2.4z"/>
<rect x="1317.4" y="1980.5" width="1023.5999999999999" height="43.200000000000045" fill="url(#g)" stroke="#262626" stroke-width="2"/>
<path d="M1317.4 1980.5v8.5 M1317.4 2023.7v-5 M1518.2 1980.5v8.5 M1518.2 2023.7v-5 M1719.0 1980.5v8.5 M1719.0 2023.7v-5 M1919.7 1980.5v8.5 M1919.7 2023.7v-5 M2120.5 1980.5v8.5 M2120.5 2023.7v-5 M2321.3 1980.5v8.5 M2321.3 2023.7v-5 M2341 2002.1h-8" stroke="#262626" stroke-width="2" fill="none"/>
<path d="M1317.4 2002.1h8" stroke="#3a3a3a" stroke-width="2" fill="none"/>
<text transform="translate(1302.8,1997.7) scale(1.245,1)" text-anchor="end" class="n">0</text>
<text transform="translate(1302.8,1889.2) scale(1.245,1)" text-anchor="end" class="n">200</text>
<text transform="translate(1302.8,1784.0) scale(1.245,1)" text-anchor="end" class="n">400</text>
<text transform="translate(1302.8,1678.7) scale(1.245,1)" text-anchor="end" class="n">600</text>
<text transform="translate(1302.8,1573.5) scale(1.245,1)" text-anchor="end" class="n">800</text>
<text transform="translate(1302.8,1468.2) scale(1.245,1)" text-anchor="end" class="n">1000</text>
<text transform="translate(1317.4,2074.4) scale(1.245,1)" text-anchor="middle" class="n">0</text>
<text transform="translate(1518.2,2074.4) scale(1.245,1)" text-anchor="middle" class="n">50</text>
<text transform="translate(1719.0,2074.4) scale(1.245,1)" text-anchor="middle" class="n">100</text>
<text transform="translate(1919.7,2074.4) scale(1.245,1)" text-anchor="middle" class="n">150</text>
<text transform="translate(2120.5,2074.4) scale(1.245,1)" text-anchor="middle" class="n">200</text>
<text transform="translate(2321.3,2074.4) scale(1.245,1)" text-anchor="middle" class="n">250</text>
<text x="1623.3" y="2122.4" class="s" textLength="394.4" lengthAdjust="spacingAndGlyphs">(f) Cipher WalkBridge</text>
<clipPath id="cg"><rect x="133.5" y="2144.0" width="1029.5" height="526.8000000000002"/></clipPath>
<rect x="136.5" y="2144.5" width="1023.5" height="526.3000000000002" fill="none" stroke="#262626" stroke-width="2"/>
<path d="M136.5 2144.5v6.5 M136.5 2670.8v-6.5 M337.1 2144.5v6.5 M337.1 2670.8v-6.5 M537.8 2144.5v6.5 M537.8 2670.8v-6.5 M738.4 2144.5v6.5 M738.4 2670.8v-6.5 M939.1 2144.5v6.5 M939.1 2670.8v-6.5 M1139.8 2144.5v6.5 M1139.8 2670.8v-6.5 M136.5 2670.8h8 M1160 2670.8h-8 M136.5 2565.5h8 M1160 2565.5h-8 M136.5 2460.3h8 M1160 2460.3h-8 M136.5 2355.0h8 M1160 2355.0h-8 M136.5 2249.8h8 M1160 2249.8h-8 M136.5 2144.5h8 M1160 2144.5h-8" stroke="#262626" stroke-width="2" fill="none"/>
<path clip-path="url(#cg)" fill="#0067B9" d="M135.30 2670.80h2.4v-557.88h-2.4zM139.31 2670.80h2.4v-557.88h-2.4zM143.33 2670.80h2.4v-557.88h-2.4zM147.34 2670.80h2.4v-557.88h-2.4zM151.35 2670.80h2.4v-519.59h-2.4zM155.37 2670.80h2.4v-557.88h-2.4zM159.38 2670.80h2.4v-508.44h-2.4zM163.39 2670.80h2.4v-520.30h-2.4zM167.40 2670.80h2.4v-557.88h-2.4zM171.42 2670.80h2.4v-557.88h-2.4zM175.43 2670.80h2.4v-557.88h-2.4zM179.44 2670.80h2.4v-557.88h-2.4zM183.46 2670.80h2.4v-522.75h-2.4zM187.47 2670.80h2.4v-557.88h-2.4zM191.48 2670.80h2.4v-557.88h-2.4zM195.50 2670.80h2.4v-557.88h-2.4zM199.51 2670.80h2.4v-557.88h-2.4zM203.52 2670.80h2.4v-519.43h-2.4zM207.53 2670.80h2.4v-557.88h-2.4zM211.55 2670.80h2.4v-557.88h-2.4zM215.56 2670.80h2.4v-557.88h-2.4zM219.57 2670.80h2.4v-557.88h-2.4zM223.59 2670.80h2.4v-557.88h-2.4zM227.60 2670.80h2.4v-557.88h-2.4zM231.61 2670.80h2.4v-557.88h-2.4zM235.62 2670.80h2.4v-557.88h-2.4zM239.64 2670.80h2.4v-517.88h-2.4zM243.65 2670.80h2.4v-557.88h-2.4zM247.66 2670.80h2.4v-557.88h-2.4zM251.68 2670.80h2.4v-515.72h-2.4zM255.69 2670.80h2.4v-557.88h-2.4zM259.70 2670.80h2.4v-557.88h-2.4zM263.72 2670.80h2.4v-507.37h-2.4zM267.73 2670.80h2.4v-557.88h-2.4zM271.74 2670.80h2.4v-557.88h-2.4zM275.75 2670.80h2.4v-520.49h-2.4zM279.77 2670.80h2.4v-557.88h-2.4zM283.78 2670.80h2.4v-557.88h-2.4zM287.79 2670.80h2.4v-522.97h-2.4zM291.81 2670.80h2.4v-557.88h-2.4zM295.82 2670.80h2.4v-557.88h-2.4zM299.83 2670.80h2.4v-557.88h-2.4zM303.85 2670.80h2.4v-557.88h-2.4zM307.86 2670.80h2.4v-557.88h-2.4zM311.87 2670.80h2.4v-517.02h-2.4zM315.89 2670.80h2.4v-557.88h-2.4zM319.90 2670.80h2.4v-557.88h-2.4zM323.91 2670.80h2.4v-557.88h-2.4zM327.92 2670.80h2.4v-557.88h-2.4zM331.94 2670.80h2.4v-557.88h-2.4zM335.95 2670.80h2.4v-557.88h-2.4zM339.96 2670.80h2.4v-557.88h-2.4zM343.98 2670.80h2.4v-557.88h-2.4zM347.99 2670.80h2.4v-557.88h-2.4zM352.00 2670.80h2.4v-557.88h-2.4zM356.02 2670.80h2.4v-557.88h-2.4zM360.03 2670.80h2.4v-557.88h-2.4zM364.04 2670.80h2.4v-557.88h-2.4zM368.05 2670.80h2.4v-557.88h-2.4zM372.07 2670.80h2.4v-510.80h-2.4zM376.08 2670.80h2.4v-557.88h-2.4zM380.09 2670.80h2.4v-557.88h-2.4zM384.11 2670.80h2.4v-557.88h-2.4zM388.12 2670.80h2.4v-517.43h-2.4zM392.13 2670.80h2.4v-557.88h-2.4zM396.14 2670.80h2.4v-557.88h-2.4zM400.16 2670.80h2.4v-557.88h-2.4zM404.17 2670.80h2.4v-557.88h-2.4zM408.18 2670.80h2.4v-557.88h-2.4zM412.20 2670.80h2.4v-557.88h-2.4zM416.21 2670.80h2.4v-557.88h-2.4zM420.22 2670.80h2.4v-557.88h-2.4zM424.24 2670.80h2.4v-557.88h-2.4zM428.25 2670.80h2.4v-557.88h-2.4zM432.26 2670.80h2.4v-557.88h-2.4zM436.27 2670.80h2.4v-516.61h-2.4zM440.29 2670.80h2.4v-557.88h-2.4zM444.30 2670.80h2.4v-557.88h-2.4zM448.31 2670.80h2.4v-557.88h-2.4zM452.33 2670.80h2.4v-515.07h-2.4zM456.34 2670.80h2.4v-557.88h-2.4zM460.35 2670.80h2.4v-557.88h-2.4zM464.37 2670.80h2.4v-557.88h-2.4zM468.38 2670.80h2.4v-557.88h-2.4zM472.39 2670.80h2.4v-557.88h-2.4zM476.41 2670.80h2.4v-557.88h-2.4zM480.42 2670.80h2.4v-557.88h-2.4zM484.43 2670.80h2.4v-557.88h-2.4zM488.44 2670.80h2.4v-557.88h-2.4zM492.46 2670.80h2.4v-557.88h-2.4zM496.47 2670.80h2.4v-557.88h-2.4zM500.48 2670.80h2.4v-557.88h-2.4zM504.50 2670.80h2.4v-557.88h-2.4zM508.51 2670.80h2.4v-557.88h-2.4zM512.52 2670.80h2.4v-557.88h-2.4zM516.53 2670.80h2.4v-557.88h-2.4zM520.55 2670.80h2.4v-557.88h-2.4zM524.56 2670.80h2.4v-557.88h-2.4zM528.57 2670.80h2.4v-557.88h-2.4zM532.59 2670.80h2.4v-557.88h-2.4zM536.60 2670.80h2.4v-557.88h-2.4zM540.61 2670.80h2.4v-557.88h-2.4zM544.63 2670.80h2.4v-557.88h-2.4zM548.64 2670.80h2.4v-557.88h-2.4zM552.65 2670.80h2.4v-557.88h-2.4zM556.66 2670.80h2.4v-557.88h-2.4zM560.68 2670.80h2.4v-557.88h-2.4zM564.69 2670.80h2.4v-557.88h-2.4zM568.70 2670.80h2.4v-557.88h-2.4zM572.72 2670.80h2.4v-557.88h-2.4zM576.73 2670.80h2.4v-557.88h-2.4zM580.74 2670.80h2.4v-557.88h-2.4zM584.76 2670.80h2.4v-557.88h-2.4zM588.77 2670.80h2.4v-557.88h-2.4zM592.78 2670.80h2.4v-557.88h-2.4zM596.79 2670.80h2.4v-557.88h-2.4zM600.81 2670.80h2.4v-506.53h-2.4zM604.82 2670.80h2.4v-557.88h-2.4zM608.83 2670.80h2.4v-557.88h-2.4zM612.85 2670.80h2.4v-557.88h-2.4zM616.86 2670.80h2.4v-557.88h-2.4zM620.87 2670.80h2.4v-557.88h-2.4zM624.89 2670.80h2.4v-557.88h-2.4zM628.90 2670.80h2.4v-557.88h-2.4zM632.91 2670.80h2.4v-557.88h-2.4zM636.92 2670.80h2.4v-557.88h-2.4zM640.94 2670.80h2.4v-557.88h-2.4zM644.95 2670.80h2.4v-557.88h-2.4zM648.96 2670.80h2.4v-557.88h-2.4zM652.98 2670.80h2.4v-557.88h-2.4zM656.99 2670.80h2.4v-557.88h-2.4zM661.00 2670.80h2.4v-557.88h-2.4zM665.02 2670.80h2.4v-522.58h-2.4zM669.03 2670.80h2.4v-557.88h-2.4zM673.04 2670.80h2.4v-500.01h-2.4zM677.05 2670.80h2.4v-521.71h-2.4zM681.07 2670.80h2.4v-557.88h-2.4zM685.08 2670.80h2.4v-557.88h-2.4zM689.09 2670.80h2.4v-557.88h-2.4zM693.11 2670.80h2.4v-557.88h-2.4zM697.12 2670.80h2.4v-557.88h-2.4zM701.13 2670.80h2.4v-557.88h-2.4zM705.15 2670.80h2.4v-520.52h-2.4zM709.16 2670.80h2.4v-557.88h-2.4zM713.17 2670.80h2.4v-557.88h-2.4zM717.18 2670.80h2.4v-516.44h-2.4zM721.20 2670.80h2.4v-557.88h-2.4zM725.21 2670.80h2.4v-557.88h-2.4zM729.22 2670.80h2.4v-557.88h-2.4zM733.24 2670.80h2.4v-557.88h-2.4zM737.25 2670.80h2.4v-520.07h-2.4zM741.26 2670.80h2.4v-557.88h-2.4zM745.28 2670.80h2.4v-520.08h-2.4zM749.29 2670.80h2.4v-516.25h-2.4zM753.30 2670.80h2.4v-523.06h-2.4zM757.31 2670.80h2.4v-557.88h-2.4zM761.33 2670.80h2.4v-557.88h-2.4zM765.34 2670.80h2.4v-523.16h-2.4zM769.35 2670.80h2.4v-557.88h-2.4zM773.37 2670.80h2.4v-557.88h-2.4zM777.38 2670.80h2.4v-557.88h-2.4zM781.39 2670.80h2.4v-523.33h-2.4zM785.41 2670.80h2.4v-557.88h-2.4zM789.42 2670.80h2.4v-557.88h-2.4zM793.43 2670.80h2.4v-557.88h-2.4zM797.44 2670.80h2.4v-557.88h-2.4zM801.46 2670.80h2.4v-557.88h-2.4zM805.47 2670.80h2.4v-519.36h-2.4zM809.48 2670.80h2.4v-557.88h-2.4zM813.50 2670.80h2.4v-557.88h-2.4zM817.51 2670.80h2.4v-557.88h-2.4zM821.52 2670.80h2.4v-557.88h-2.4zM825.54 2670.80h2.4v-557.88h-2.4zM829.55 2670.80h2.4v-557.88h-2.4zM833.56 2670.80h2.4v-557.88h-2.4zM837.57 2670.80h2.4v-557.88h-2.4zM841.59 2670.80h2.4v-557.88h-2.4zM845.60 2670.80h2.4v-557.88h-2.4zM849.61 2670.80h2.4v-557.88h-2.4zM853.63 2670.80h2.4v-557.88h-2.4zM857.64 2670.80h2.4v-557.88h-2.4zM861.65 2670.80h2.4v-557.88h-2.4zM865.67 2670.80h2.4v-522.20h-2.4zM869.68 2670.80h2.4v-520.79h-2.4zM873.69 2670.80h2.4v-557.88h-2.4zM877.70 2670.80h2.4v-557.88h-2.4zM881.72 2670.80h2.4v-557.88h-2.4zM885.73 2670.80h2.4v-557.88h-2.4zM889.74 2670.80h2.4v-557.88h-2.4zM893.76 2670.80h2.4v-557.88h-2.4zM897.77 2670.80h2.4v-557.88h-2.4zM901.78 2670.80h2.4v-557.88h-2.4zM905.80 2670.80h2.4v-557.88h-2.4zM909.81 2670.80h2.4v-557.88h-2.4zM913.82 2670.80h2.4v-557.88h-2.4zM917.83 2670.80h2.4v-557.88h-2.4zM921.85 2670.80h2.4v-557.88h-2.4zM925.86 2670.80h2.4v-557.88h-2.4zM929.87 2670.80h2.4v-557.88h-2.4zM933.89 2670.80h2.4v-557.88h-2.4zM937.90 2670.80h2.4v-557.88h-2.4zM941.91 2670.80h2.4v-519.52h-2.4zM945.93 2670.80h2.4v-557.88h-2.4zM949.94 2670.80h2.4v-557.88h-2.4zM953.95 2670.80h2.4v-557.88h-2.4zM957.96 2670.80h2.4v-557.88h-2.4zM961.98 2670.80h2.4v-557.88h-2.4zM965.99 2670.80h2.4v-557.88h-2.4zM970.00 2670.80h2.4v-519.18h-2.4zM974.02 2670.80h2.4v-557.88h-2.4zM978.03 2670.80h2.4v-520.48h-2.4zM982.04 2670.80h2.4v-557.88h-2.4zM986.06 2670.80h2.4v-557.88h-2.4zM990.07 2670.80h2.4v-557.88h-2.4zM994.08 2670.80h2.4v-557.88h-2.4zM998.09 2670.80h2.4v-503.37h-2.4zM1002.11 2670.80h2.4v-557.88h-2.4zM1006.12 2670.80h2.4v-522.89h-2.4zM1010.13 2670.80h2.4v-557.88h-2.4zM1014.15 2670.80h2.4v-516.45h-2.4zM1018.16 2670.80h2.4v-557.88h-2.4zM1022.17 2670.80h2.4v-557.88h-2.4zM1026.19 2670.80h2.4v-557.88h-2.4zM1030.20 2670.80h2.4v-557.88h-2.4zM1034.21 2670.80h2.4v-557.88h-2.4zM1038.22 2670.80h2.4v-557.88h-2.4zM1042.24 2670.80h2.4v-557.88h-2.4zM1046.25 2670.80h2.4v-557.88h-2.4zM1050.26 2670.80h2.4v-557.88h-2.4zM1054.28 2670.80h2.4v-557.88h-2.4zM1058.29 2670.80h2.4v-557.88h-2.4zM1062.30 2670.80h2.4v-557.88h-2.4zM1066.32 2670.80h2.4v-557.88h-2.4zM1070.33 2670.80h2.4v-557.88h-2.4zM1074.34 2670.80h2.4v-557.88h-2.4zM1078.35 2670.80h2.4v-557.88h-2.4zM1082.37 2670.80h2.4v-557.88h-2.4zM1086.38 2670.80h2.4v-557.88h-2.4zM1090.39 2670.80h2.4v-557.88h-2.4zM1094.41 2670.80h2.4v-557.88h-2.4zM1098.42 2670.80h2.4v-557.88h-2.4zM1102.43 2670.80h2.4v-557.88h-2.4zM1106.45 2670.80h2.4v-557.88h-2.4zM1110.46 2670.80h2.4v-557.88h-2.4zM1114.47 2670.80h2.4v-557.88h-2.4zM1118.48 2670.80h2.4v-557.88h-2.4zM1122.50 2670.80h2.4v-515.99h-2.4zM1126.51 2670.80h2.4v-557.88h-2.4zM1130.52 2670.80h2.4v-518.85h-2.4zM1134.54 2670.80h2.4v-557.88h-2.4zM1138.55 2670.80h2.4v-557.88h-2.4zM1142.56 2670.80h2.4v-557.88h-2.4zM1146.58 2670.80h2.4v-557.88h-2.4zM1150.59 2670.80h2.4v-521.46h-2.4zM1154.60 2670.80h2.4v-514.73h-2.4zM1158.62 2670.80h2.4v-557.88h-2.4z"/>
<rect x="136.5" y="2670.8" width="1023.5" height="43.59999999999991" fill="url(#g)" stroke="#262626" stroke-width="2"/>
<path d="M136.5 2670.8v8.5 M136.5 2714.4v-5 M337.1 2670.8v8.5 M337.1 2714.4v-5 M537.8 2670.8v8.5 M537.8 2714.4v-5 M738.4 2670.8v8.5 M738.4 2714.4v-5 M939.1 2670.8v8.5 M939.1 2714.4v-5 M1139.8 2670.8v8.5 M1139.8 2714.4v-5 M1160 2692.6h-8" stroke="#262626" stroke-width="2" fill="none"/>
<path d="M136.5 2692.6h8" stroke="#3a3a3a" stroke-width="2" fill="none"/>
<text transform="translate(122.9,2687.5) scale(1.245,1)" text-anchor="end" class="n">0</text>
<text transform="translate(122.9,2579.0) scale(1.245,1)" text-anchor="end" class="n">200</text>
<text transform="translate(122.9,2473.8) scale(1.245,1)" text-anchor="end" class="n">400</text>
<text transform="translate(122.9,2368.5) scale(1.245,1)" text-anchor="end" class="n">600</text>
<text transform="translate(122.9,2263.3) scale(1.245,1)" text-anchor="end" class="n">800</text>
<text transform="translate(122.9,2158.0) scale(1.245,1)" text-anchor="end" class="n">1000</text>
<text transform="translate(136.5,2765.5) scale(1.245,1)" text-anchor="middle" class="n">0</text>
<text transform="translate(337.1,2765.5) scale(1.245,1)" text-anchor="middle" class="n">50</text>
<text transform="translate(537.8,2765.5) scale(1.245,1)" text-anchor="middle" class="n">100</text>
<text transform="translate(738.4,2765.5) scale(1.245,1)" text-anchor="middle" class="n">150</text>
<text transform="translate(939.1,2765.5) scale(1.245,1)" text-anchor="middle" class="n">200</text>
<text transform="translate(1139.8,2765.5) scale(1.245,1)" text-anchor="middle" class="n">250</text>
<text x="466.7" y="2825.3" class="s" textLength="52.2" lengthAdjust="spacingAndGlyphs">(g)</text>
<text x="528.9" y="2825.3" class="c" textLength="275.3" lengthAdjust="spacingAndGlyphs">Cipher Mandrill</text>
<clipPath id="ch"><rect x="1312.7" y="2145.5" width="1031.3" height="525.0"/></clipPath>
<rect x="1315.7" y="2146" width="1025.3" height="524.5" fill="none" stroke="#262626" stroke-width="2"/>
<path d="M1315.7 2146v6.5 M1315.7 2670.5v-6.5 M1516.5 2146v6.5 M1516.5 2670.5v-6.5 M1717.3 2146v6.5 M1717.3 2670.5v-6.5 M1918.0 2146v6.5 M1918.0 2670.5v-6.5 M2118.8 2146v6.5 M2118.8 2670.5v-6.5 M2319.6 2146v6.5 M2319.6 2670.5v-6.5 M1315.7 2670.5h8 M2341 2670.5h-8 M1315.7 2565.6h8 M2341 2565.6h-8 M1315.7 2460.7h8 M2341 2460.7h-8 M1315.7 2355.8h8 M2341 2355.8h-8 M1315.7 2250.9h8 M2341 2250.9h-8 M1315.7 2146.0h8 M2341 2146.0h-8" stroke="#262626" stroke-width="2" fill="none"/>
<path clip-path="url(#ch)" fill="#0067B9" d="M1314.50 2670.50h2.4v-555.97h-2.4zM1318.52 2670.50h2.4v-555.97h-2.4zM1322.53 2670.50h2.4v-555.97h-2.4zM1326.55 2670.50h2.4v-555.97h-2.4zM1330.56 2670.50h2.4v-555.97h-2.4zM1334.58 2670.50h2.4v-555.97h-2.4zM1338.59 2670.50h2.4v-555.97h-2.4zM1342.61 2670.50h2.4v-555.97h-2.4zM1346.62 2670.50h2.4v-555.97h-2.4zM1350.64 2670.50h2.4v-555.97h-2.4zM1354.66 2670.50h2.4v-555.97h-2.4zM1358.67 2670.50h2.4v-515.11h-2.4zM1362.69 2670.50h2.4v-555.97h-2.4zM1366.70 2670.50h2.4v-555.97h-2.4zM1370.72 2670.50h2.4v-555.97h-2.4zM1374.73 2670.50h2.4v-555.97h-2.4zM1378.75 2670.50h2.4v-555.97h-2.4zM1382.77 2670.50h2.4v-555.97h-2.4zM1386.78 2670.50h2.4v-555.97h-2.4zM1390.80 2670.50h2.4v-555.97h-2.4zM1394.81 2670.50h2.4v-555.97h-2.4zM1398.83 2670.50h2.4v-555.97h-2.4zM1402.84 2670.50h2.4v-555.97h-2.4zM1406.86 2670.50h2.4v-555.97h-2.4zM1410.87 2670.50h2.4v-555.97h-2.4zM1414.89 2670.50h2.4v-517.81h-2.4zM1418.91 2670.50h2.4v-522.13h-2.4zM1422.92 2670.50h2.4v-555.97h-2.4zM1426.94 2670.50h2.4v-517.54h-2.4zM1430.95 2670.50h2.4v-521.25h-2.4zM1434.97 2670.50h2.4v-555.97h-2.4zM1438.98 2670.50h2.4v-555.97h-2.4zM1443.00 2670.50h2.4v-501.71h-2.4zM1447.01 2670.50h2.4v-555.97h-2.4zM1451.03 2670.50h2.4v-555.97h-2.4zM1455.05 2670.50h2.4v-555.97h-2.4zM1459.06 2670.50h2.4v-555.97h-2.4zM1463.08 2670.50h2.4v-555.97h-2.4zM1467.09 2670.50h2.4v-555.97h-2.4zM1471.11 2670.50h2.4v-555.97h-2.4zM1475.12 2670.50h2.4v-555.97h-2.4zM1479.14 2670.50h2.4v-555.97h-2.4zM1483.16 2670.50h2.4v-555.97h-2.4zM1487.17 2670.50h2.4v-555.97h-2.4zM1491.19 2670.50h2.4v-555.97h-2.4zM1495.20 2670.50h2.4v-555.97h-2.4zM1499.22 2670.50h2.4v-555.97h-2.4zM1503.23 2670.50h2.4v-555.97h-2.4zM1507.25 2670.50h2.4v-555.97h-2.4zM1511.26 2670.50h2.4v-555.97h-2.4zM1515.28 2670.50h2.4v-555.97h-2.4zM1519.30 2670.50h2.4v-555.97h-2.4zM1523.31 2670.50h2.4v-522.25h-2.4zM1527.33 2670.50h2.4v-555.97h-2.4zM1531.34 2670.50h2.4v-514.41h-2.4zM1535.36 2670.50h2.4v-555.97h-2.4zM1539.37 2670.50h2.4v-555.97h-2.4zM1543.39 2670.50h2.4v-555.97h-2.4zM1547.40 2670.50h2.4v-555.97h-2.4zM1551.42 2670.50h2.4v-555.97h-2.4zM1555.44 2670.50h2.4v-555.97h-2.4zM1559.45 2670.50h2.4v-555.97h-2.4zM1563.47 2670.50h2.4v-555.97h-2.4zM1567.48 2670.50h2.4v-555.97h-2.4zM1571.50 2670.50h2.4v-517.15h-2.4zM1575.51 2670.50h2.4v-555.97h-2.4zM1579.53 2670.50h2.4v-505.73h-2.4zM1583.55 2670.50h2.4v-555.97h-2.4zM1587.56 2670.50h2.4v-555.97h-2.4zM1591.58 2670.50h2.4v-500.32h-2.4zM1595.59 2670.50h2.4v-517.04h-2.4zM1599.61 2670.50h2.4v-555.97h-2.4zM1603.62 2670.50h2.4v-518.16h-2.4zM1607.64 2670.50h2.4v-520.06h-2.4zM1611.65 2670.50h2.4v-555.97h-2.4zM1615.67 2670.50h2.4v-555.97h-2.4zM1619.69 2670.50h2.4v-555.97h-2.4zM1623.70 2670.50h2.4v-555.97h-2.4zM1627.72 2670.50h2.4v-555.97h-2.4zM1631.73 2670.50h2.4v-555.97h-2.4zM1635.75 2670.50h2.4v-518.04h-2.4zM1639.76 2670.50h2.4v-555.97h-2.4zM1643.78 2670.50h2.4v-555.97h-2.4zM1647.79 2670.50h2.4v-555.97h-2.4zM1651.81 2670.50h2.4v-555.97h-2.4zM1655.83 2670.50h2.4v-555.97h-2.4zM1659.84 2670.50h2.4v-555.97h-2.4zM1663.86 2670.50h2.4v-555.97h-2.4zM1667.87 2670.50h2.4v-555.97h-2.4zM1671.89 2670.50h2.4v-555.97h-2.4zM1675.90 2670.50h2.4v-517.56h-2.4zM1679.92 2670.50h2.4v-555.97h-2.4zM1683.94 2670.50h2.4v-555.97h-2.4zM1687.95 2670.50h2.4v-555.97h-2.4zM1691.97 2670.50h2.4v-555.97h-2.4zM1695.98 2670.50h2.4v-555.97h-2.4zM1700.00 2670.50h2.4v-555.97h-2.4zM1704.01 2670.50h2.4v-555.97h-2.4zM1708.03 2670.50h2.4v-515.71h-2.4zM1712.04 2670.50h2.4v-555.97h-2.4zM1716.06 2670.50h2.4v-518.47h-2.4zM1720.08 2670.50h2.4v-519.99h-2.4zM1724.09 2670.50h2.4v-555.97h-2.4zM1728.11 2670.50h2.4v-516.40h-2.4zM1732.12 2670.50h2.4v-555.97h-2.4zM1736.14 2670.50h2.4v-555.97h-2.4zM1740.15 2670.50h2.4v-515.82h-2.4zM1744.17 2670.50h2.4v-555.97h-2.4zM1748.18 2670.50h2.4v-555.97h-2.4zM1752.20 2670.50h2.4v-555.97h-2.4zM1756.22 2670.50h2.4v-555.97h-2.4zM1760.23 2670.50h2.4v-555.97h-2.4zM1764.25 2670.50h2.4v-520.68h-2.4zM1768.26 2670.50h2.4v-555.97h-2.4zM1772.28 2670.50h2.4v-555.97h-2.4zM1776.29 2670.50h2.4v-513.77h-2.4zM1780.31 2670.50h2.4v-555.97h-2.4zM1784.33 2670.50h2.4v-555.97h-2.4zM1788.34 2670.50h2.4v-514.98h-2.4zM1792.36 2670.50h2.4v-555.97h-2.4zM1796.37 2670.50h2.4v-555.97h-2.4zM1800.39 2670.50h2.4v-555.97h-2.4zM1804.40 2670.50h2.4v-519.70h-2.4zM1808.42 2670.50h2.4v-555.97h-2.4zM1812.43 2670.50h2.4v-555.97h-2.4zM1816.45 2670.50h2.4v-555.97h-2.4zM1820.47 2670.50h2.4v-555.97h-2.4zM1824.48 2670.50h2.4v-514.26h-2.4zM1828.50 2670.50h2.4v-555.97h-2.4zM1832.51 2670.50h2.4v-555.97h-2.4zM1836.53 2670.50h2.4v-515.65h-2.4zM1840.54 2670.50h2.4v-520.09h-2.4zM1844.56 2670.50h2.4v-520.45h-2.4zM1848.57 2670.50h2.4v-555.97h-2.4zM1852.59 2670.50h2.4v-555.97h-2.4zM1856.61 2670.50h2.4v-555.97h-2.4zM1860.62 2670.50h2.4v-555.97h-2.4zM1864.64 2670.50h2.4v-555.97h-2.4zM1868.65 2670.50h2.4v-555.97h-2.4zM1872.67 2670.50h2.4v-555.97h-2.4zM1876.68 2670.50h2.4v-555.97h-2.4zM1880.70 2670.50h2.4v-513.18h-2.4zM1884.72 2670.50h2.4v-514.24h-2.4zM1888.73 2670.50h2.4v-521.66h-2.4zM1892.75 2670.50h2.4v-555.97h-2.4zM1896.76 2670.50h2.4v-555.97h-2.4zM1900.78 2670.50h2.4v-555.97h-2.4zM1904.79 2670.50h2.4v-555.97h-2.4zM1908.81 2670.50h2.4v-555.97h-2.4zM1912.82 2670.50h2.4v-555.97h-2.4zM1916.84 2670.50h2.4v-555.97h-2.4zM1920.86 2670.50h2.4v-555.97h-2.4zM1924.87 2670.50h2.4v-555.97h-2.4zM1928.89 2670.50h2.4v-555.97h-2.4zM1932.90 2670.50h2.4v-555.97h-2.4zM1936.92 2670.50h2.4v-555.97h-2.4zM1940.93 2670.50h2.4v-520.95h-2.4zM1944.95 2670.50h2.4v-555.97h-2.4zM1948.96 2670.50h2.4v-555.97h-2.4zM1952.98 2670.50h2.4v-555.97h-2.4zM1957.00 2670.50h2.4v-513.47h-2.4zM1961.01 2670.50h2.4v-555.97h-2.4zM1965.03 2670.50h2.4v-555.97h-2.4zM1969.04 2670.50h2.4v-495.84h-2.4zM1973.06 2670.50h2.4v-555.97h-2.4zM1977.07 2670.50h2.4v-555.97h-2.4zM1981.09 2670.50h2.4v-555.97h-2.4zM1985.11 2670.50h2.4v-501.27h-2.4zM1989.12 2670.50h2.4v-516.09h-2.4zM1993.14 2670.50h2.4v-555.97h-2.4zM1997.15 2670.50h2.4v-555.97h-2.4zM2001.17 2670.50h2.4v-555.97h-2.4zM2005.18 2670.50h2.4v-555.97h-2.4zM2009.20 2670.50h2.4v-555.97h-2.4zM2013.21 2670.50h2.4v-555.97h-2.4zM2017.23 2670.50h2.4v-516.60h-2.4zM2021.25 2670.50h2.4v-555.97h-2.4zM2025.26 2670.50h2.4v-555.97h-2.4zM2029.28 2670.50h2.4v-555.97h-2.4zM2033.29 2670.50h2.4v-555.97h-2.4zM2037.31 2670.50h2.4v-555.97h-2.4zM2041.32 2670.50h2.4v-555.97h-2.4zM2045.34 2670.50h2.4v-555.97h-2.4zM2049.35 2670.50h2.4v-555.97h-2.4zM2053.37 2670.50h2.4v-555.97h-2.4zM2057.39 2670.50h2.4v-555.97h-2.4zM2061.40 2670.50h2.4v-521.83h-2.4zM2065.42 2670.50h2.4v-555.97h-2.4zM2069.43 2670.50h2.4v-555.97h-2.4zM2073.45 2670.50h2.4v-515.59h-2.4zM2077.46 2670.50h2.4v-555.97h-2.4zM2081.48 2670.50h2.4v-555.97h-2.4zM2085.50 2670.50h2.4v-555.97h-2.4zM2089.51 2670.50h2.4v-517.33h-2.4zM2093.53 2670.50h2.4v-555.97h-2.4zM2097.54 2670.50h2.4v-555.97h-2.4zM2101.56 2670.50h2.4v-555.97h-2.4zM2105.57 2670.50h2.4v-515.97h-2.4zM2109.59 2670.50h2.4v-555.97h-2.4zM2113.60 2670.50h2.4v-555.97h-2.4zM2117.62 2670.50h2.4v-555.97h-2.4zM2121.64 2670.50h2.4v-555.97h-2.4zM2125.65 2670.50h2.4v-555.97h-2.4zM2129.67 2670.50h2.4v-555.97h-2.4zM2133.68 2670.50h2.4v-555.97h-2.4zM2137.70 2670.50h2.4v-555.97h-2.4zM2141.71 2670.50h2.4v-555.97h-2.4zM2145.73 2670.50h2.4v-515.23h-2.4zM2149.74 2670.50h2.4v-516.25h-2.4zM2153.76 2670.50h2.4v-555.97h-2.4zM2157.78 2670.50h2.4v-555.97h-2.4zM2161.79 2670.50h2.4v-555.97h-2.4zM2165.81 2670.50h2.4v-555.97h-2.4zM2169.82 2670.50h2.4v-516.22h-2.4zM2173.84 2670.50h2.4v-555.97h-2.4zM2177.85 2670.50h2.4v-555.97h-2.4zM2181.87 2670.50h2.4v-555.97h-2.4zM2185.89 2670.50h2.4v-555.97h-2.4zM2189.90 2670.50h2.4v-555.97h-2.4zM2193.92 2670.50h2.4v-555.97h-2.4zM2197.93 2670.50h2.4v-513.65h-2.4zM2201.95 2670.50h2.4v-555.97h-2.4zM2205.96 2670.50h2.4v-555.97h-2.4zM2209.98 2670.50h2.4v-515.50h-2.4zM2213.99 2670.50h2.4v-555.97h-2.4zM2218.01 2670.50h2.4v-555.97h-2.4zM2222.03 2670.50h2.4v-555.97h-2.4zM2226.04 2670.50h2.4v-555.97h-2.4zM2230.06 2670.50h2.4v-555.97h-2.4zM2234.07 2670.50h2.4v-555.97h-2.4zM2238.09 2670.50h2.4v-555.97h-2.4zM2242.10 2670.50h2.4v-518.13h-2.4zM2246.12 2670.50h2.4v-555.97h-2.4zM2250.13 2670.50h2.4v-555.97h-2.4zM2254.15 2670.50h2.4v-555.97h-2.4zM2258.17 2670.50h2.4v-555.97h-2.4zM2262.18 2670.50h2.4v-555.97h-2.4zM2266.20 2670.50h2.4v-555.97h-2.4zM2270.21 2670.50h2.4v-555.97h-2.4zM2274.23 2670.50h2.4v-514.40h-2.4zM2278.24 2670.50h2.4v-509.15h-2.4zM2282.26 2670.50h2.4v-555.97h-2.4zM2286.28 2670.50h2.4v-555.97h-2.4zM2290.29 2670.50h2.4v-555.97h-2.4zM2294.31 2670.50h2.4v-555.97h-2.4zM2298.32 2670.50h2.4v-555.97h-2.4zM2302.34 2670.50h2.4v-555.97h-2.4zM2306.35 2670.50h2.4v-555.97h-2.4zM2310.37 2670.50h2.4v-555.97h-2.4zM2314.38 2670.50h2.4v-555.97h-2.4zM2318.40 2670.50h2.4v-555.97h-2.4zM2322.42 2670.50h2.4v-555.97h-2.4zM2326.43 2670.50h2.4v-555.97h-2.4zM2330.45 2670.50h2.4v-555.97h-2.4zM2334.46 2670.50h2.4v-555.97h-2.4zM2338.48 2670.50h2.4v-555.97h-2.4z"/>
<rect x="1315.7" y="2667.5" width="1025.3" height="2.6" fill="#1a70c0" opacity="0.85"/>
<rect x="1315.7" y="2670.5" width="1025.3" height="44.5" fill="url(#g)" stroke="#262626" stroke-width="2"/>
<path d="M1315.7 2670.5v8.5 M1315.7 2715v-5 M1516.5 2670.5v8.5 M1516.5 2715v-5 M1717.3 2670.5v8.5 M1717.3 2715v-5 M1918.0 2670.5v8.5 M1918.0 2715v-5 M2118.8 2670.5v8.5 M2118.8 2715v-5 M2319.6 2670.5v8.5 M2319.6 2715v-5 M2341 2692.8h-8" stroke="#262626" stroke-width="2" fill="none"/>
<path d="M1315.7 2692.8h8" stroke="#3a3a3a" stroke-width="2" fill="none"/>
<text transform="translate(1302.7,2688.7) scale(1.245,1)" text-anchor="end" class="n">0</text>
<text transform="translate(1302.7,2580.6) scale(1.245,1)" text-anchor="end" class="n">200</text>
<text transform="translate(1302.7,2475.7) scale(1.245,1)" text-anchor="end" class="n">400</text>
<text transform="translate(1302.7,2370.8) scale(1.245,1)" text-anchor="end" class="n">600</text>
<text transform="translate(1302.7,2265.9) scale(1.245,1)" text-anchor="end" class="n">800</text>
<text transform="translate(1302.7,2161.0) scale(1.245,1)" text-anchor="end" class="n">1000</text>
<text transform="translate(1315.7,2767.0) scale(1.245,1)" text-anchor="middle" class="n">0</text>
<text transform="translate(1516.5,2767.0) scale(1.245,1)" text-anchor="middle" class="n">50</text>
<text transform="translate(1717.3,2767.0) scale(1.245,1)" text-anchor="middle" class="n">100</text>
<text transform="translate(1918.0,2767.0) scale(1.245,1)" text-anchor="middle" class="n">150</text>
<text transform="translate(2118.8,2767.0) scale(1.245,1)" text-anchor="middle" class="n">200</text>
<text transform="translate(2319.6,2767.0) scale(1.245,1)" text-anchor="middle" class="n">250</text>
<text x="1622.9" y="2825.7" class="s" textLength="338.4" lengthAdjust="spacingAndGlyphs">(h) Cipher JetPlane</text>
</svg></body></html>
